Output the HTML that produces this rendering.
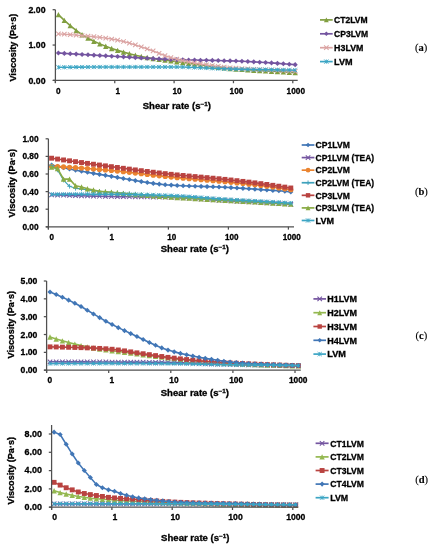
<!DOCTYPE html>
<html><head><meta charset="utf-8"><title>Viscosity vs shear rate</title>
<style>
html,body{margin:0;padding:0;background:#fff;}
svg{display:block;}
text{white-space:pre;}
</style></head><body>
<svg width="433" height="550" viewBox="0 0 433 550">
<rect width="433" height="550" fill="#fff"/>
<g>
<path d="M58.40 14.59L64.32 20.38L70.24 25.61L76.16 30.43L82.08 34.73L88.00 38.17L93.92 41.18L99.84 43.88L105.76 46.30L111.68 48.45L117.60 50.37L123.52 52.14L129.44 53.75L135.36 55.19L141.28 56.47L147.20 57.56L153.12 58.50L159.04 59.34L164.96 60.12L170.88 60.89L176.80 61.68L182.72 62.49L188.64 63.32L194.56 64.14L200.48 64.96L206.40 65.75L212.32 66.50L218.24 67.21L224.16 67.86L230.08 68.44L236.00 68.94L241.92 69.40L247.84 69.81L253.76 70.20L259.68 70.56L265.60 70.90L271.52 71.23L277.44 71.56L283.36 71.90L289.28 72.24L295.20 72.59" stroke="#819f40" stroke-width="1.6" fill="none" stroke-linejoin="round"/>
<path d="M58.40 11.89L61.10 17.29L55.70 17.29Z" fill="#819f40"/>
<path d="M64.32 17.68L67.02 23.08L61.62 23.08Z" fill="#819f40"/>
<path d="M70.24 22.91L72.94 28.31L67.54 28.31Z" fill="#819f40"/>
<path d="M76.16 27.73L78.86 33.13L73.46 33.13Z" fill="#819f40"/>
<path d="M82.08 32.03L84.78 37.43L79.38 37.43Z" fill="#819f40"/>
<path d="M88.00 35.47L90.70 40.87L85.30 40.87Z" fill="#819f40"/>
<path d="M93.92 38.48L96.62 43.88L91.22 43.88Z" fill="#819f40"/>
<path d="M99.84 41.18L102.54 46.58L97.14 46.58Z" fill="#819f40"/>
<path d="M105.76 43.60L108.46 49.00L103.06 49.00Z" fill="#819f40"/>
<path d="M111.68 45.75L114.38 51.15L108.98 51.15Z" fill="#819f40"/>
<path d="M117.60 47.67L120.30 53.07L114.90 53.07Z" fill="#819f40"/>
<path d="M123.52 49.44L126.22 54.84L120.82 54.84Z" fill="#819f40"/>
<path d="M129.44 51.05L132.14 56.45L126.74 56.45Z" fill="#819f40"/>
<path d="M135.36 52.49L138.06 57.89L132.66 57.89Z" fill="#819f40"/>
<path d="M141.28 53.77L143.98 59.17L138.58 59.17Z" fill="#819f40"/>
<path d="M147.20 54.86L149.90 60.26L144.50 60.26Z" fill="#819f40"/>
<path d="M153.12 55.80L155.82 61.20L150.42 61.20Z" fill="#819f40"/>
<path d="M159.04 56.64L161.74 62.04L156.34 62.04Z" fill="#819f40"/>
<path d="M164.96 57.42L167.66 62.82L162.26 62.82Z" fill="#819f40"/>
<path d="M170.88 58.19L173.58 63.59L168.18 63.59Z" fill="#819f40"/>
<path d="M176.80 58.98L179.50 64.38L174.10 64.38Z" fill="#819f40"/>
<path d="M182.72 59.79L185.42 65.19L180.02 65.19Z" fill="#819f40"/>
<path d="M188.64 60.62L191.34 66.02L185.94 66.02Z" fill="#819f40"/>
<path d="M194.56 61.44L197.26 66.84L191.86 66.84Z" fill="#819f40"/>
<path d="M200.48 62.26L203.18 67.66L197.78 67.66Z" fill="#819f40"/>
<path d="M206.40 63.05L209.10 68.45L203.70 68.45Z" fill="#819f40"/>
<path d="M212.32 63.80L215.02 69.20L209.62 69.20Z" fill="#819f40"/>
<path d="M218.24 64.51L220.94 69.91L215.54 69.91Z" fill="#819f40"/>
<path d="M224.16 65.16L226.86 70.56L221.46 70.56Z" fill="#819f40"/>
<path d="M230.08 65.74L232.78 71.14L227.38 71.14Z" fill="#819f40"/>
<path d="M236.00 66.24L238.70 71.64L233.30 71.64Z" fill="#819f40"/>
<path d="M241.92 66.70L244.62 72.10L239.22 72.10Z" fill="#819f40"/>
<path d="M247.84 67.11L250.54 72.51L245.14 72.51Z" fill="#819f40"/>
<path d="M253.76 67.50L256.46 72.90L251.06 72.90Z" fill="#819f40"/>
<path d="M259.68 67.86L262.38 73.26L256.98 73.26Z" fill="#819f40"/>
<path d="M265.60 68.20L268.30 73.60L262.90 73.60Z" fill="#819f40"/>
<path d="M271.52 68.53L274.22 73.93L268.82 73.93Z" fill="#819f40"/>
<path d="M277.44 68.86L280.14 74.26L274.74 74.26Z" fill="#819f40"/>
<path d="M283.36 69.20L286.06 74.60L280.66 74.60Z" fill="#819f40"/>
<path d="M289.28 69.54L291.98 74.94L286.58 74.94Z" fill="#819f40"/>
<path d="M295.20 69.89L297.90 75.29L292.50 75.29Z" fill="#819f40"/>
<path d="M58.40 53.01L64.32 53.38L70.24 53.74L76.16 54.10L82.08 54.46L88.00 54.81L93.92 55.16L99.84 55.51L105.76 55.85L111.68 56.19L117.60 56.52L123.52 56.87L129.44 57.23L135.36 57.59L141.28 57.94L147.20 58.29L153.12 58.61L159.04 58.92L164.96 59.19L170.88 59.43L176.80 59.63L182.72 59.80L188.64 59.94L194.56 60.07L200.48 60.19L206.40 60.30L212.32 60.42L218.24 60.54L224.16 60.69L230.08 60.85L236.00 61.05L241.92 61.28L247.84 61.55L253.76 61.85L259.68 62.18L265.60 62.52L271.52 62.92L277.44 63.37L283.36 63.82L289.28 64.26L295.20 64.64" stroke="#7455a0" stroke-width="1.6" fill="none" stroke-linejoin="round"/>
<path d="M58.40 50.46L60.95 53.01L58.40 55.56L55.85 53.01Z" fill="#7455a0"/>
<path d="M64.32 50.83L66.87 53.38L64.32 55.93L61.77 53.38Z" fill="#7455a0"/>
<path d="M70.24 51.19L72.79 53.74L70.24 56.29L67.69 53.74Z" fill="#7455a0"/>
<path d="M76.16 51.55L78.71 54.10L76.16 56.65L73.61 54.10Z" fill="#7455a0"/>
<path d="M82.08 51.91L84.63 54.46L82.08 57.01L79.53 54.46Z" fill="#7455a0"/>
<path d="M88.00 52.26L90.55 54.81L88.00 57.36L85.45 54.81Z" fill="#7455a0"/>
<path d="M93.92 52.61L96.47 55.16L93.92 57.71L91.37 55.16Z" fill="#7455a0"/>
<path d="M99.84 52.96L102.39 55.51L99.84 58.06L97.29 55.51Z" fill="#7455a0"/>
<path d="M105.76 53.30L108.31 55.85L105.76 58.40L103.21 55.85Z" fill="#7455a0"/>
<path d="M111.68 53.64L114.23 56.19L111.68 58.74L109.13 56.19Z" fill="#7455a0"/>
<path d="M117.60 53.97L120.15 56.52L117.60 59.07L115.05 56.52Z" fill="#7455a0"/>
<path d="M123.52 54.32L126.07 56.87L123.52 59.42L120.97 56.87Z" fill="#7455a0"/>
<path d="M129.44 54.68L131.99 57.23L129.44 59.78L126.89 57.23Z" fill="#7455a0"/>
<path d="M135.36 55.04L137.91 57.59L135.36 60.14L132.81 57.59Z" fill="#7455a0"/>
<path d="M141.28 55.39L143.83 57.94L141.28 60.49L138.73 57.94Z" fill="#7455a0"/>
<path d="M147.20 55.74L149.75 58.29L147.20 60.84L144.65 58.29Z" fill="#7455a0"/>
<path d="M153.12 56.06L155.67 58.61L153.12 61.16L150.57 58.61Z" fill="#7455a0"/>
<path d="M159.04 56.37L161.59 58.92L159.04 61.47L156.49 58.92Z" fill="#7455a0"/>
<path d="M164.96 56.64L167.51 59.19L164.96 61.74L162.41 59.19Z" fill="#7455a0"/>
<path d="M170.88 56.88L173.43 59.43L170.88 61.98L168.33 59.43Z" fill="#7455a0"/>
<path d="M176.80 57.08L179.35 59.63L176.80 62.18L174.25 59.63Z" fill="#7455a0"/>
<path d="M182.72 57.25L185.27 59.80L182.72 62.35L180.17 59.80Z" fill="#7455a0"/>
<path d="M188.64 57.39L191.19 59.94L188.64 62.49L186.09 59.94Z" fill="#7455a0"/>
<path d="M194.56 57.52L197.11 60.07L194.56 62.62L192.01 60.07Z" fill="#7455a0"/>
<path d="M200.48 57.64L203.03 60.19L200.48 62.74L197.93 60.19Z" fill="#7455a0"/>
<path d="M206.40 57.75L208.95 60.30L206.40 62.85L203.85 60.30Z" fill="#7455a0"/>
<path d="M212.32 57.87L214.87 60.42L212.32 62.97L209.77 60.42Z" fill="#7455a0"/>
<path d="M218.24 57.99L220.79 60.54L218.24 63.09L215.69 60.54Z" fill="#7455a0"/>
<path d="M224.16 58.14L226.71 60.69L224.16 63.24L221.61 60.69Z" fill="#7455a0"/>
<path d="M230.08 58.30L232.63 60.85L230.08 63.40L227.53 60.85Z" fill="#7455a0"/>
<path d="M236.00 58.50L238.55 61.05L236.00 63.60L233.45 61.05Z" fill="#7455a0"/>
<path d="M241.92 58.73L244.47 61.28L241.92 63.83L239.37 61.28Z" fill="#7455a0"/>
<path d="M247.84 59.00L250.39 61.55L247.84 64.10L245.29 61.55Z" fill="#7455a0"/>
<path d="M253.76 59.30L256.31 61.85L253.76 64.40L251.21 61.85Z" fill="#7455a0"/>
<path d="M259.68 59.63L262.23 62.18L259.68 64.73L257.13 62.18Z" fill="#7455a0"/>
<path d="M265.60 59.97L268.15 62.52L265.60 65.07L263.05 62.52Z" fill="#7455a0"/>
<path d="M271.52 60.37L274.07 62.92L271.52 65.47L268.97 62.92Z" fill="#7455a0"/>
<path d="M277.44 60.82L279.99 63.37L277.44 65.92L274.89 63.37Z" fill="#7455a0"/>
<path d="M283.36 61.27L285.91 63.82L283.36 66.37L280.81 63.82Z" fill="#7455a0"/>
<path d="M289.28 61.71L291.83 64.26L289.28 66.81L286.73 64.26Z" fill="#7455a0"/>
<path d="M295.20 62.09L297.75 64.64L295.20 67.19L292.65 64.64Z" fill="#7455a0"/>
<path d="M58.40 33.88L64.32 34.22L70.24 34.63L76.16 35.09L82.08 35.59L88.00 36.13L93.92 36.73L99.84 37.40L105.76 38.17L111.68 39.06L117.60 40.11L123.52 41.50L129.44 43.16L135.36 44.99L141.28 46.88L147.20 48.79L153.12 50.97L159.04 53.30L164.96 55.56L170.88 57.57L176.80 59.17L182.72 60.56L188.64 61.83L194.56 62.97L200.48 63.98L206.40 64.88L212.32 65.72L218.24 66.48L224.16 67.17L230.08 67.75L236.00 68.22L241.92 68.62L247.84 68.98L253.76 69.31L259.68 69.60L265.60 69.88L271.52 70.15L277.44 70.42L283.36 70.71L289.28 71.01L295.20 71.35" stroke="#dba4a3" stroke-width="1.4" fill="none" stroke-linejoin="round"/>
<path d="M56.15 31.63L60.65 36.13M56.15 36.13L60.65 31.63" stroke="#dba4a3" stroke-width="1.05" fill="none"/>
<path d="M62.07 31.97L66.57 36.47M62.07 36.47L66.57 31.97" stroke="#dba4a3" stroke-width="1.05" fill="none"/>
<path d="M67.99 32.38L72.49 36.88M67.99 36.88L72.49 32.38" stroke="#dba4a3" stroke-width="1.05" fill="none"/>
<path d="M73.91 32.84L78.41 37.34M73.91 37.34L78.41 32.84" stroke="#dba4a3" stroke-width="1.05" fill="none"/>
<path d="M79.83 33.34L84.33 37.84M79.83 37.84L84.33 33.34" stroke="#dba4a3" stroke-width="1.05" fill="none"/>
<path d="M85.75 33.88L90.25 38.38M85.75 38.38L90.25 33.88" stroke="#dba4a3" stroke-width="1.05" fill="none"/>
<path d="M91.67 34.48L96.17 38.98M91.67 38.98L96.17 34.48" stroke="#dba4a3" stroke-width="1.05" fill="none"/>
<path d="M97.59 35.15L102.09 39.65M97.59 39.65L102.09 35.15" stroke="#dba4a3" stroke-width="1.05" fill="none"/>
<path d="M103.51 35.92L108.01 40.42M103.51 40.42L108.01 35.92" stroke="#dba4a3" stroke-width="1.05" fill="none"/>
<path d="M109.43 36.81L113.93 41.31M109.43 41.31L113.93 36.81" stroke="#dba4a3" stroke-width="1.05" fill="none"/>
<path d="M115.35 37.86L119.85 42.36M115.35 42.36L119.85 37.86" stroke="#dba4a3" stroke-width="1.05" fill="none"/>
<path d="M121.27 39.25L125.77 43.75M121.27 43.75L125.77 39.25" stroke="#dba4a3" stroke-width="1.05" fill="none"/>
<path d="M127.19 40.91L131.69 45.41M127.19 45.41L131.69 40.91" stroke="#dba4a3" stroke-width="1.05" fill="none"/>
<path d="M133.11 42.74L137.61 47.24M133.11 47.24L137.61 42.74" stroke="#dba4a3" stroke-width="1.05" fill="none"/>
<path d="M139.03 44.63L143.53 49.13M139.03 49.13L143.53 44.63" stroke="#dba4a3" stroke-width="1.05" fill="none"/>
<path d="M144.95 46.54L149.45 51.04M144.95 51.04L149.45 46.54" stroke="#dba4a3" stroke-width="1.05" fill="none"/>
<path d="M150.87 48.72L155.37 53.22M150.87 53.22L155.37 48.72" stroke="#dba4a3" stroke-width="1.05" fill="none"/>
<path d="M156.79 51.05L161.29 55.55M156.79 55.55L161.29 51.05" stroke="#dba4a3" stroke-width="1.05" fill="none"/>
<path d="M162.71 53.31L167.21 57.81M162.71 57.81L167.21 53.31" stroke="#dba4a3" stroke-width="1.05" fill="none"/>
<path d="M168.63 55.32L173.13 59.82M168.63 59.82L173.13 55.32" stroke="#dba4a3" stroke-width="1.05" fill="none"/>
<path d="M174.55 56.92L179.05 61.42M174.55 61.42L179.05 56.92" stroke="#dba4a3" stroke-width="1.05" fill="none"/>
<path d="M180.47 58.31L184.97 62.81M180.47 62.81L184.97 58.31" stroke="#dba4a3" stroke-width="1.05" fill="none"/>
<path d="M186.39 59.58L190.89 64.08M186.39 64.08L190.89 59.58" stroke="#dba4a3" stroke-width="1.05" fill="none"/>
<path d="M192.31 60.72L196.81 65.22M192.31 65.22L196.81 60.72" stroke="#dba4a3" stroke-width="1.05" fill="none"/>
<path d="M198.23 61.73L202.73 66.23M198.23 66.23L202.73 61.73" stroke="#dba4a3" stroke-width="1.05" fill="none"/>
<path d="M204.15 62.63L208.65 67.13M204.15 67.13L208.65 62.63" stroke="#dba4a3" stroke-width="1.05" fill="none"/>
<path d="M210.07 63.47L214.57 67.97M210.07 67.97L214.57 63.47" stroke="#dba4a3" stroke-width="1.05" fill="none"/>
<path d="M215.99 64.23L220.49 68.73M215.99 68.73L220.49 64.23" stroke="#dba4a3" stroke-width="1.05" fill="none"/>
<path d="M221.91 64.92L226.41 69.42M221.91 69.42L226.41 64.92" stroke="#dba4a3" stroke-width="1.05" fill="none"/>
<path d="M227.83 65.50L232.33 70.00M227.83 70.00L232.33 65.50" stroke="#dba4a3" stroke-width="1.05" fill="none"/>
<path d="M233.75 65.97L238.25 70.47M233.75 70.47L238.25 65.97" stroke="#dba4a3" stroke-width="1.05" fill="none"/>
<path d="M239.67 66.37L244.17 70.87M239.67 70.87L244.17 66.37" stroke="#dba4a3" stroke-width="1.05" fill="none"/>
<path d="M245.59 66.73L250.09 71.23M245.59 71.23L250.09 66.73" stroke="#dba4a3" stroke-width="1.05" fill="none"/>
<path d="M251.51 67.06L256.01 71.56M251.51 71.56L256.01 67.06" stroke="#dba4a3" stroke-width="1.05" fill="none"/>
<path d="M257.43 67.35L261.93 71.85M257.43 71.85L261.93 67.35" stroke="#dba4a3" stroke-width="1.05" fill="none"/>
<path d="M263.35 67.63L267.85 72.13M263.35 72.13L267.85 67.63" stroke="#dba4a3" stroke-width="1.05" fill="none"/>
<path d="M269.27 67.90L273.77 72.40M269.27 72.40L273.77 67.90" stroke="#dba4a3" stroke-width="1.05" fill="none"/>
<path d="M275.19 68.17L279.69 72.67M275.19 72.67L279.69 68.17" stroke="#dba4a3" stroke-width="1.05" fill="none"/>
<path d="M281.11 68.46L285.61 72.96M281.11 72.96L285.61 68.46" stroke="#dba4a3" stroke-width="1.05" fill="none"/>
<path d="M287.03 68.76L291.53 73.26M287.03 73.26L291.53 68.76" stroke="#dba4a3" stroke-width="1.05" fill="none"/>
<path d="M292.95 69.10L297.45 73.60M292.95 73.60L297.45 69.10" stroke="#dba4a3" stroke-width="1.05" fill="none"/>
<path d="M58.40 67.29L64.32 67.24L70.24 67.19L76.16 67.14L82.08 67.10L88.00 67.06L93.92 67.02L99.84 67.00L105.76 66.98L111.68 66.97L117.60 66.97L123.52 66.97L129.44 66.97L135.36 66.97L141.28 66.97L147.20 66.97L153.12 66.97L159.04 66.97L164.96 66.97L170.88 66.97L176.80 66.98L182.72 67.06L188.64 67.22L194.56 67.44L200.48 67.70L206.40 67.98L212.32 68.26L218.24 68.54L224.16 68.79L230.08 69.00L236.00 69.15L241.92 69.27L247.84 69.38L253.76 69.48L259.68 69.57L265.60 69.65L271.52 69.74L277.44 69.84L283.36 69.95L289.28 70.07L295.20 70.21" stroke="#3ba5c4" stroke-width="1.6" fill="none" stroke-linejoin="round"/>
<path d="M56.30 65.19L60.50 69.39M56.30 69.39L60.50 65.19M58.40 65.19L58.40 69.39" stroke="#3ba5c4" stroke-width="0.9" fill="none"/>
<path d="M62.22 65.14L66.42 69.34M62.22 69.34L66.42 65.14M64.32 65.14L64.32 69.34" stroke="#3ba5c4" stroke-width="0.9" fill="none"/>
<path d="M68.14 65.09L72.34 69.29M68.14 69.29L72.34 65.09M70.24 65.09L70.24 69.29" stroke="#3ba5c4" stroke-width="0.9" fill="none"/>
<path d="M74.06 65.04L78.26 69.24M74.06 69.24L78.26 65.04M76.16 65.04L76.16 69.24" stroke="#3ba5c4" stroke-width="0.9" fill="none"/>
<path d="M79.98 65.00L84.18 69.20M79.98 69.20L84.18 65.00M82.08 65.00L82.08 69.20" stroke="#3ba5c4" stroke-width="0.9" fill="none"/>
<path d="M85.90 64.96L90.10 69.16M85.90 69.16L90.10 64.96M88.00 64.96L88.00 69.16" stroke="#3ba5c4" stroke-width="0.9" fill="none"/>
<path d="M91.82 64.92L96.02 69.12M91.82 69.12L96.02 64.92M93.92 64.92L93.92 69.12" stroke="#3ba5c4" stroke-width="0.9" fill="none"/>
<path d="M97.74 64.90L101.94 69.10M97.74 69.10L101.94 64.90M99.84 64.90L99.84 69.10" stroke="#3ba5c4" stroke-width="0.9" fill="none"/>
<path d="M103.66 64.88L107.86 69.08M103.66 69.08L107.86 64.88M105.76 64.88L105.76 69.08" stroke="#3ba5c4" stroke-width="0.9" fill="none"/>
<path d="M109.58 64.87L113.78 69.07M109.58 69.07L113.78 64.87M111.68 64.87L111.68 69.07" stroke="#3ba5c4" stroke-width="0.9" fill="none"/>
<path d="M115.50 64.87L119.70 69.07M115.50 69.07L119.70 64.87M117.60 64.87L117.60 69.07" stroke="#3ba5c4" stroke-width="0.9" fill="none"/>
<path d="M121.42 64.87L125.62 69.07M121.42 69.07L125.62 64.87M123.52 64.87L123.52 69.07" stroke="#3ba5c4" stroke-width="0.9" fill="none"/>
<path d="M127.34 64.87L131.54 69.07M127.34 69.07L131.54 64.87M129.44 64.87L129.44 69.07" stroke="#3ba5c4" stroke-width="0.9" fill="none"/>
<path d="M133.26 64.87L137.46 69.07M133.26 69.07L137.46 64.87M135.36 64.87L135.36 69.07" stroke="#3ba5c4" stroke-width="0.9" fill="none"/>
<path d="M139.18 64.87L143.38 69.07M139.18 69.07L143.38 64.87M141.28 64.87L141.28 69.07" stroke="#3ba5c4" stroke-width="0.9" fill="none"/>
<path d="M145.10 64.87L149.30 69.07M145.10 69.07L149.30 64.87M147.20 64.87L147.20 69.07" stroke="#3ba5c4" stroke-width="0.9" fill="none"/>
<path d="M151.02 64.87L155.22 69.07M151.02 69.07L155.22 64.87M153.12 64.87L153.12 69.07" stroke="#3ba5c4" stroke-width="0.9" fill="none"/>
<path d="M156.94 64.87L161.14 69.07M156.94 69.07L161.14 64.87M159.04 64.87L159.04 69.07" stroke="#3ba5c4" stroke-width="0.9" fill="none"/>
<path d="M162.86 64.87L167.06 69.07M162.86 69.07L167.06 64.87M164.96 64.87L164.96 69.07" stroke="#3ba5c4" stroke-width="0.9" fill="none"/>
<path d="M168.78 64.87L172.98 69.07M168.78 69.07L172.98 64.87M170.88 64.87L170.88 69.07" stroke="#3ba5c4" stroke-width="0.9" fill="none"/>
<path d="M174.70 64.88L178.90 69.08M174.70 69.08L178.90 64.88M176.80 64.88L176.80 69.08" stroke="#3ba5c4" stroke-width="0.9" fill="none"/>
<path d="M180.62 64.96L184.82 69.16M180.62 69.16L184.82 64.96M182.72 64.96L182.72 69.16" stroke="#3ba5c4" stroke-width="0.9" fill="none"/>
<path d="M186.54 65.12L190.74 69.32M186.54 69.32L190.74 65.12M188.64 65.12L188.64 69.32" stroke="#3ba5c4" stroke-width="0.9" fill="none"/>
<path d="M192.46 65.34L196.66 69.54M192.46 69.54L196.66 65.34M194.56 65.34L194.56 69.54" stroke="#3ba5c4" stroke-width="0.9" fill="none"/>
<path d="M198.38 65.60L202.58 69.80M198.38 69.80L202.58 65.60M200.48 65.60L200.48 69.80" stroke="#3ba5c4" stroke-width="0.9" fill="none"/>
<path d="M204.30 65.88L208.50 70.08M204.30 70.08L208.50 65.88M206.40 65.88L206.40 70.08" stroke="#3ba5c4" stroke-width="0.9" fill="none"/>
<path d="M210.22 66.16L214.42 70.36M210.22 70.36L214.42 66.16M212.32 66.16L212.32 70.36" stroke="#3ba5c4" stroke-width="0.9" fill="none"/>
<path d="M216.14 66.44L220.34 70.64M216.14 70.64L220.34 66.44M218.24 66.44L218.24 70.64" stroke="#3ba5c4" stroke-width="0.9" fill="none"/>
<path d="M222.06 66.69L226.26 70.89M222.06 70.89L226.26 66.69M224.16 66.69L224.16 70.89" stroke="#3ba5c4" stroke-width="0.9" fill="none"/>
<path d="M227.98 66.90L232.18 71.10M227.98 71.10L232.18 66.90M230.08 66.90L230.08 71.10" stroke="#3ba5c4" stroke-width="0.9" fill="none"/>
<path d="M233.90 67.05L238.10 71.25M233.90 71.25L238.10 67.05M236.00 67.05L236.00 71.25" stroke="#3ba5c4" stroke-width="0.9" fill="none"/>
<path d="M239.82 67.17L244.02 71.37M239.82 71.37L244.02 67.17M241.92 67.17L241.92 71.37" stroke="#3ba5c4" stroke-width="0.9" fill="none"/>
<path d="M245.74 67.28L249.94 71.48M245.74 71.48L249.94 67.28M247.84 67.28L247.84 71.48" stroke="#3ba5c4" stroke-width="0.9" fill="none"/>
<path d="M251.66 67.38L255.86 71.58M251.66 71.58L255.86 67.38M253.76 67.38L253.76 71.58" stroke="#3ba5c4" stroke-width="0.9" fill="none"/>
<path d="M257.58 67.47L261.78 71.67M257.58 71.67L261.78 67.47M259.68 67.47L259.68 71.67" stroke="#3ba5c4" stroke-width="0.9" fill="none"/>
<path d="M263.50 67.55L267.70 71.75M263.50 71.75L267.70 67.55M265.60 67.55L265.60 71.75" stroke="#3ba5c4" stroke-width="0.9" fill="none"/>
<path d="M269.42 67.64L273.62 71.84M269.42 71.84L273.62 67.64M271.52 67.64L271.52 71.84" stroke="#3ba5c4" stroke-width="0.9" fill="none"/>
<path d="M275.34 67.74L279.54 71.94M275.34 71.94L279.54 67.74M277.44 67.74L277.44 71.94" stroke="#3ba5c4" stroke-width="0.9" fill="none"/>
<path d="M281.26 67.85L285.46 72.05M281.26 72.05L285.46 67.85M283.36 67.85L283.36 72.05" stroke="#3ba5c4" stroke-width="0.9" fill="none"/>
<path d="M287.18 67.97L291.38 72.17M287.18 72.17L291.38 67.97M289.28 67.97L289.28 72.17" stroke="#3ba5c4" stroke-width="0.9" fill="none"/>
<path d="M293.10 68.11L297.30 72.31M293.10 72.31L297.30 68.11M295.20 68.11L295.20 72.31" stroke="#3ba5c4" stroke-width="0.9" fill="none"/>
<path d="M55.40 9.70L55.40 82.90M52.90 80.40L297.70 80.40" stroke="#505050" stroke-width="1.25" fill="none"/>
<path d="M52.60 80.40L55.40 80.40" stroke="#505050" stroke-width="1.25"/>
<text x="45.50" y="83.60" font-family='"Liberation Sans", sans-serif' font-size="9.0" font-weight="bold" text-anchor="end" fill="#000" textLength="17.00" lengthAdjust="spacingAndGlyphs" stroke="#000" stroke-width="0.3">0.00</text>
<path d="M52.60 45.05L55.40 45.05" stroke="#505050" stroke-width="1.25"/>
<text x="45.50" y="48.25" font-family='"Liberation Sans", sans-serif' font-size="9.0" font-weight="bold" text-anchor="end" fill="#000" textLength="17.00" lengthAdjust="spacingAndGlyphs" stroke="#000" stroke-width="0.3">1.00</text>
<path d="M52.60 9.70L55.40 9.70" stroke="#505050" stroke-width="1.25"/>
<text x="45.50" y="12.90" font-family='"Liberation Sans", sans-serif' font-size="9.0" font-weight="bold" text-anchor="end" fill="#000" textLength="17.00" lengthAdjust="spacingAndGlyphs" stroke="#000" stroke-width="0.3">2.00</text>
<path d="M55.40 80.40L55.40 83.20" stroke="#505050" stroke-width="1.25"/>
<text x="58.40" y="93.60" font-family='"Liberation Sans", sans-serif' font-size="9.0" font-weight="bold" text-anchor="middle" fill="#000" textLength="4.60" lengthAdjust="spacingAndGlyphs" stroke="#000" stroke-width="0.3">0</text>
<path d="M114.75 80.40L114.75 83.20" stroke="#505050" stroke-width="1.25"/>
<text x="117.75" y="93.60" font-family='"Liberation Sans", sans-serif' font-size="9.0" font-weight="bold" text-anchor="middle" fill="#000" textLength="4.60" lengthAdjust="spacingAndGlyphs" stroke="#000" stroke-width="0.3">1</text>
<path d="M174.10 80.40L174.10 83.20" stroke="#505050" stroke-width="1.25"/>
<text x="177.10" y="93.60" font-family='"Liberation Sans", sans-serif' font-size="9.0" font-weight="bold" text-anchor="middle" fill="#000" textLength="9.20" lengthAdjust="spacingAndGlyphs" stroke="#000" stroke-width="0.3">10</text>
<path d="M233.45 80.40L233.45 83.20" stroke="#505050" stroke-width="1.25"/>
<text x="236.45" y="93.60" font-family='"Liberation Sans", sans-serif' font-size="9.0" font-weight="bold" text-anchor="middle" fill="#000" textLength="13.80" lengthAdjust="spacingAndGlyphs" stroke="#000" stroke-width="0.3">100</text>
<path d="M292.80 80.40L292.80 83.20" stroke="#505050" stroke-width="1.25"/>
<text x="295.80" y="93.60" font-family='"Liberation Sans", sans-serif' font-size="9.0" font-weight="bold" text-anchor="middle" fill="#000" textLength="18.40" lengthAdjust="spacingAndGlyphs" stroke="#000" stroke-width="0.3">1000</text>
<text x="16.40" y="47.60" font-family='"Liberation Sans", sans-serif' font-size="8.8" font-weight="bold" text-anchor="middle" fill="#000" textLength="68.00" lengthAdjust="spacingAndGlyphs" transform="rotate(-90 16.40 47.60)" stroke="#000" stroke-width="0.3">Viscosity (Pa·s)</text>
<text x="176.80" y="109.20" font-family='"Liberation Sans", sans-serif' font-size="8.8" font-weight="bold" text-anchor="middle" fill="#000" textLength="68.10" lengthAdjust="spacingAndGlyphs" stroke="#000" stroke-width="0.3">Shear rate (s<tspan font-size="5.8" dy="-3.0">−1</tspan><tspan dy="3.0">)</tspan></text>
<path d="M320.00 19.90L332.70 19.90" stroke="#819f40" stroke-width="1.7"/>
<path d="M326.35 17.47L328.78 22.33L323.92 22.33Z" fill="#819f40"/>
<text x="334.10" y="23.10" font-family='"Liberation Sans", sans-serif' font-size="9" font-weight="bold" text-anchor="start" fill="#000" textLength="33.50" lengthAdjust="spacingAndGlyphs" stroke="#000" stroke-width="0.3">CT2LVM</text>
<path d="M320.00 33.80L332.70 33.80" stroke="#7455a0" stroke-width="1.7"/>
<path d="M326.35 31.50L328.65 33.80L326.35 36.09L324.06 33.80Z" fill="#7455a0"/>
<text x="334.10" y="37.00" font-family='"Liberation Sans", sans-serif' font-size="9" font-weight="bold" text-anchor="start" fill="#000" textLength="34.00" lengthAdjust="spacingAndGlyphs" stroke="#000" stroke-width="0.3">CP3LVM</text>
<path d="M320.00 47.70L332.70 47.70" stroke="#dba4a3" stroke-width="1.7"/>
<path d="M324.10 45.45L328.60 49.95M324.10 49.95L328.60 45.45" stroke="#dba4a3" stroke-width="1.05" fill="none"/>
<text x="334.10" y="50.90" font-family='"Liberation Sans", sans-serif' font-size="9" font-weight="bold" text-anchor="start" fill="#000" textLength="29.30" lengthAdjust="spacingAndGlyphs" stroke="#000" stroke-width="0.3">H3LVM</text>
<path d="M320.00 61.60L332.70 61.60" stroke="#3ba5c4" stroke-width="1.7"/>
<path d="M324.25 59.50L328.45 63.70M324.25 63.70L328.45 59.50M326.35 59.50L326.35 63.70" stroke="#3ba5c4" stroke-width="0.9" fill="none"/>
<text x="334.10" y="64.80" font-family='"Liberation Sans", sans-serif' font-size="9" font-weight="bold" text-anchor="start" fill="#000" textLength="18.50" lengthAdjust="spacingAndGlyphs" stroke="#000" stroke-width="0.3">LVM</text>
<text x="421.00" y="51.00" font-family='"Liberation Serif", serif' font-size="10.5" font-weight="normal" text-anchor="middle" fill="#000" stroke="#000" stroke-width="0.12">(<tspan font-weight="bold">a</tspan>)</text>
</g>
<g>
<path d="M51.60 165.06L57.58 166.40L63.56 167.70L69.54 168.94L75.52 170.12L81.50 171.24L87.48 172.32L93.46 173.36L99.44 174.37L105.42 175.36L111.40 176.35L117.38 177.38L123.36 178.45L129.34 179.52L135.32 180.58L141.30 181.59L147.28 182.53L153.26 183.38L159.24 184.10L165.22 184.68L171.20 185.09L177.18 185.43L183.16 185.71L189.14 185.96L195.12 186.18L201.10 186.38L207.08 186.58L213.06 186.79L219.04 187.03L225.02 187.29L231.00 187.61L236.98 187.96L242.96 188.34L248.94 188.75L254.92 189.17L260.90 189.59L266.88 190.01L272.86 190.39L278.84 190.78L284.82 191.25L290.80 191.91" stroke="#4176b6" stroke-width="1.6" fill="none" stroke-linejoin="round"/>
<path d="M51.60 162.51L54.15 165.06L51.60 167.61L49.05 165.06Z" fill="#4176b6"/>
<path d="M57.58 163.85L60.13 166.40L57.58 168.95L55.03 166.40Z" fill="#4176b6"/>
<path d="M63.56 165.15L66.11 167.70L63.56 170.25L61.01 167.70Z" fill="#4176b6"/>
<path d="M69.54 166.39L72.09 168.94L69.54 171.49L66.99 168.94Z" fill="#4176b6"/>
<path d="M75.52 167.57L78.07 170.12L75.52 172.67L72.97 170.12Z" fill="#4176b6"/>
<path d="M81.50 168.69L84.05 171.24L81.50 173.79L78.95 171.24Z" fill="#4176b6"/>
<path d="M87.48 169.77L90.03 172.32L87.48 174.87L84.93 172.32Z" fill="#4176b6"/>
<path d="M93.46 170.81L96.01 173.36L93.46 175.91L90.91 173.36Z" fill="#4176b6"/>
<path d="M99.44 171.82L101.99 174.37L99.44 176.92L96.89 174.37Z" fill="#4176b6"/>
<path d="M105.42 172.81L107.97 175.36L105.42 177.91L102.87 175.36Z" fill="#4176b6"/>
<path d="M111.40 173.80L113.95 176.35L111.40 178.90L108.85 176.35Z" fill="#4176b6"/>
<path d="M117.38 174.83L119.93 177.38L117.38 179.93L114.83 177.38Z" fill="#4176b6"/>
<path d="M123.36 175.90L125.91 178.45L123.36 181.00L120.81 178.45Z" fill="#4176b6"/>
<path d="M129.34 176.97L131.89 179.52L129.34 182.07L126.79 179.52Z" fill="#4176b6"/>
<path d="M135.32 178.03L137.87 180.58L135.32 183.13L132.77 180.58Z" fill="#4176b6"/>
<path d="M141.30 179.04L143.85 181.59L141.30 184.14L138.75 181.59Z" fill="#4176b6"/>
<path d="M147.28 179.98L149.83 182.53L147.28 185.08L144.73 182.53Z" fill="#4176b6"/>
<path d="M153.26 180.83L155.81 183.38L153.26 185.93L150.71 183.38Z" fill="#4176b6"/>
<path d="M159.24 181.55L161.79 184.10L159.24 186.65L156.69 184.10Z" fill="#4176b6"/>
<path d="M165.22 182.13L167.77 184.68L165.22 187.23L162.67 184.68Z" fill="#4176b6"/>
<path d="M171.20 182.54L173.75 185.09L171.20 187.64L168.65 185.09Z" fill="#4176b6"/>
<path d="M177.18 182.88L179.73 185.43L177.18 187.98L174.63 185.43Z" fill="#4176b6"/>
<path d="M183.16 183.16L185.71 185.71L183.16 188.26L180.61 185.71Z" fill="#4176b6"/>
<path d="M189.14 183.41L191.69 185.96L189.14 188.51L186.59 185.96Z" fill="#4176b6"/>
<path d="M195.12 183.63L197.67 186.18L195.12 188.73L192.57 186.18Z" fill="#4176b6"/>
<path d="M201.10 183.83L203.65 186.38L201.10 188.93L198.55 186.38Z" fill="#4176b6"/>
<path d="M207.08 184.03L209.63 186.58L207.08 189.13L204.53 186.58Z" fill="#4176b6"/>
<path d="M213.06 184.24L215.61 186.79L213.06 189.34L210.51 186.79Z" fill="#4176b6"/>
<path d="M219.04 184.48L221.59 187.03L219.04 189.58L216.49 187.03Z" fill="#4176b6"/>
<path d="M225.02 184.74L227.57 187.29L225.02 189.84L222.47 187.29Z" fill="#4176b6"/>
<path d="M231.00 185.06L233.55 187.61L231.00 190.16L228.45 187.61Z" fill="#4176b6"/>
<path d="M236.98 185.41L239.53 187.96L236.98 190.51L234.43 187.96Z" fill="#4176b6"/>
<path d="M242.96 185.79L245.51 188.34L242.96 190.89L240.41 188.34Z" fill="#4176b6"/>
<path d="M248.94 186.20L251.49 188.75L248.94 191.30L246.39 188.75Z" fill="#4176b6"/>
<path d="M254.92 186.62L257.47 189.17L254.92 191.72L252.37 189.17Z" fill="#4176b6"/>
<path d="M260.90 187.04L263.45 189.59L260.90 192.14L258.35 189.59Z" fill="#4176b6"/>
<path d="M266.88 187.46L269.43 190.01L266.88 192.56L264.33 190.01Z" fill="#4176b6"/>
<path d="M272.86 187.84L275.41 190.39L272.86 192.94L270.31 190.39Z" fill="#4176b6"/>
<path d="M278.84 188.23L281.39 190.78L278.84 193.33L276.29 190.78Z" fill="#4176b6"/>
<path d="M284.82 188.70L287.37 191.25L284.82 193.80L282.27 191.25Z" fill="#4176b6"/>
<path d="M290.80 189.36L293.35 191.91L290.80 194.46L288.25 191.91Z" fill="#4176b6"/>
<path d="M51.60 194.80L57.58 195.01L63.56 195.21L69.54 195.41L75.52 195.60L81.50 195.78L87.48 195.95L93.46 196.10L99.44 196.25L105.42 196.38L111.40 196.50L117.38 196.59L123.36 196.68L129.34 196.75L135.32 196.82L141.30 196.88L147.28 196.96L153.26 197.04L159.24 197.13L165.22 197.25L171.20 197.39L177.18 197.61L183.16 197.90L189.14 198.23L195.12 198.61L201.10 199.02L207.08 199.44L213.06 199.86L219.04 200.26L225.02 200.64L231.00 200.98L236.98 201.31L242.96 201.62L248.94 201.92L254.92 202.23L260.90 202.53L266.88 202.84L272.86 203.17L278.84 203.51L284.82 203.87L290.80 204.26" stroke="#7455a0" stroke-width="1.6" fill="none" stroke-linejoin="round"/>
<path d="M49.35 192.55L53.85 197.05M49.35 197.05L53.85 192.55" stroke="#7455a0" stroke-width="1.05" fill="none"/>
<path d="M55.33 192.76L59.83 197.26M55.33 197.26L59.83 192.76" stroke="#7455a0" stroke-width="1.05" fill="none"/>
<path d="M61.31 192.96L65.81 197.46M61.31 197.46L65.81 192.96" stroke="#7455a0" stroke-width="1.05" fill="none"/>
<path d="M67.29 193.16L71.79 197.66M67.29 197.66L71.79 193.16" stroke="#7455a0" stroke-width="1.05" fill="none"/>
<path d="M73.27 193.35L77.77 197.85M73.27 197.85L77.77 193.35" stroke="#7455a0" stroke-width="1.05" fill="none"/>
<path d="M79.25 193.53L83.75 198.03M79.25 198.03L83.75 193.53" stroke="#7455a0" stroke-width="1.05" fill="none"/>
<path d="M85.23 193.70L89.73 198.20M85.23 198.20L89.73 193.70" stroke="#7455a0" stroke-width="1.05" fill="none"/>
<path d="M91.21 193.85L95.71 198.35M91.21 198.35L95.71 193.85" stroke="#7455a0" stroke-width="1.05" fill="none"/>
<path d="M97.19 194.00L101.69 198.50M97.19 198.50L101.69 194.00" stroke="#7455a0" stroke-width="1.05" fill="none"/>
<path d="M103.17 194.13L107.67 198.63M103.17 198.63L107.67 194.13" stroke="#7455a0" stroke-width="1.05" fill="none"/>
<path d="M109.15 194.25L113.65 198.75M109.15 198.75L113.65 194.25" stroke="#7455a0" stroke-width="1.05" fill="none"/>
<path d="M115.13 194.34L119.63 198.84M115.13 198.84L119.63 194.34" stroke="#7455a0" stroke-width="1.05" fill="none"/>
<path d="M121.11 194.43L125.61 198.93M121.11 198.93L125.61 194.43" stroke="#7455a0" stroke-width="1.05" fill="none"/>
<path d="M127.09 194.50L131.59 199.00M127.09 199.00L131.59 194.50" stroke="#7455a0" stroke-width="1.05" fill="none"/>
<path d="M133.07 194.57L137.57 199.07M133.07 199.07L137.57 194.57" stroke="#7455a0" stroke-width="1.05" fill="none"/>
<path d="M139.05 194.63L143.55 199.13M139.05 199.13L143.55 194.63" stroke="#7455a0" stroke-width="1.05" fill="none"/>
<path d="M145.03 194.71L149.53 199.21M145.03 199.21L149.53 194.71" stroke="#7455a0" stroke-width="1.05" fill="none"/>
<path d="M151.01 194.79L155.51 199.29M151.01 199.29L155.51 194.79" stroke="#7455a0" stroke-width="1.05" fill="none"/>
<path d="M156.99 194.88L161.49 199.38M156.99 199.38L161.49 194.88" stroke="#7455a0" stroke-width="1.05" fill="none"/>
<path d="M162.97 195.00L167.47 199.50M162.97 199.50L167.47 195.00" stroke="#7455a0" stroke-width="1.05" fill="none"/>
<path d="M168.95 195.14L173.45 199.64M168.95 199.64L173.45 195.14" stroke="#7455a0" stroke-width="1.05" fill="none"/>
<path d="M174.93 195.36L179.43 199.86M174.93 199.86L179.43 195.36" stroke="#7455a0" stroke-width="1.05" fill="none"/>
<path d="M180.91 195.65L185.41 200.15M180.91 200.15L185.41 195.65" stroke="#7455a0" stroke-width="1.05" fill="none"/>
<path d="M186.89 195.98L191.39 200.48M186.89 200.48L191.39 195.98" stroke="#7455a0" stroke-width="1.05" fill="none"/>
<path d="M192.87 196.36L197.37 200.86M192.87 200.86L197.37 196.36" stroke="#7455a0" stroke-width="1.05" fill="none"/>
<path d="M198.85 196.77L203.35 201.27M198.85 201.27L203.35 196.77" stroke="#7455a0" stroke-width="1.05" fill="none"/>
<path d="M204.83 197.19L209.33 201.69M204.83 201.69L209.33 197.19" stroke="#7455a0" stroke-width="1.05" fill="none"/>
<path d="M210.81 197.61L215.31 202.11M210.81 202.11L215.31 197.61" stroke="#7455a0" stroke-width="1.05" fill="none"/>
<path d="M216.79 198.01L221.29 202.51M216.79 202.51L221.29 198.01" stroke="#7455a0" stroke-width="1.05" fill="none"/>
<path d="M222.77 198.39L227.27 202.89M222.77 202.89L227.27 198.39" stroke="#7455a0" stroke-width="1.05" fill="none"/>
<path d="M228.75 198.73L233.25 203.23M228.75 203.23L233.25 198.73" stroke="#7455a0" stroke-width="1.05" fill="none"/>
<path d="M234.73 199.06L239.23 203.56M234.73 203.56L239.23 199.06" stroke="#7455a0" stroke-width="1.05" fill="none"/>
<path d="M240.71 199.37L245.21 203.87M240.71 203.87L245.21 199.37" stroke="#7455a0" stroke-width="1.05" fill="none"/>
<path d="M246.69 199.67L251.19 204.17M246.69 204.17L251.19 199.67" stroke="#7455a0" stroke-width="1.05" fill="none"/>
<path d="M252.67 199.98L257.17 204.48M252.67 204.48L257.17 199.98" stroke="#7455a0" stroke-width="1.05" fill="none"/>
<path d="M258.65 200.28L263.15 204.78M258.65 204.78L263.15 200.28" stroke="#7455a0" stroke-width="1.05" fill="none"/>
<path d="M264.63 200.59L269.13 205.09M264.63 205.09L269.13 200.59" stroke="#7455a0" stroke-width="1.05" fill="none"/>
<path d="M270.61 200.92L275.11 205.42M270.61 205.42L275.11 200.92" stroke="#7455a0" stroke-width="1.05" fill="none"/>
<path d="M276.59 201.26L281.09 205.76M276.59 205.76L281.09 201.26" stroke="#7455a0" stroke-width="1.05" fill="none"/>
<path d="M282.57 201.62L287.07 206.12M282.57 206.12L287.07 201.62" stroke="#7455a0" stroke-width="1.05" fill="none"/>
<path d="M288.55 202.01L293.05 206.51M288.55 206.51L293.05 202.01" stroke="#7455a0" stroke-width="1.05" fill="none"/>
<path d="M51.60 166.24L57.58 166.56L63.56 166.91L69.54 167.28L75.52 167.68L81.50 168.10L87.48 168.54L93.46 169.00L99.44 169.47L105.42 169.97L111.40 170.48L117.38 171.05L123.36 171.68L129.34 172.35L135.32 173.05L141.30 173.77L147.28 174.48L153.26 175.18L159.24 175.86L165.22 176.50L171.20 177.09L177.18 177.64L183.16 178.17L189.14 178.69L195.12 179.19L201.10 179.69L207.08 180.19L213.06 180.70L219.04 181.23L225.02 181.77L231.00 182.35L236.98 182.93L242.96 183.52L248.94 184.13L254.92 184.77L260.90 185.46L266.88 186.20L272.86 187.04L278.84 187.95L284.82 188.86L290.80 189.75" stroke="#ea8430" stroke-width="1.6" fill="none" stroke-linejoin="round"/>
<circle cx="51.60" cy="166.24" r="2.60" fill="#ea8430"/>
<circle cx="57.58" cy="166.56" r="2.60" fill="#ea8430"/>
<circle cx="63.56" cy="166.91" r="2.60" fill="#ea8430"/>
<circle cx="69.54" cy="167.28" r="2.60" fill="#ea8430"/>
<circle cx="75.52" cy="167.68" r="2.60" fill="#ea8430"/>
<circle cx="81.50" cy="168.10" r="2.60" fill="#ea8430"/>
<circle cx="87.48" cy="168.54" r="2.60" fill="#ea8430"/>
<circle cx="93.46" cy="169.00" r="2.60" fill="#ea8430"/>
<circle cx="99.44" cy="169.47" r="2.60" fill="#ea8430"/>
<circle cx="105.42" cy="169.97" r="2.60" fill="#ea8430"/>
<circle cx="111.40" cy="170.48" r="2.60" fill="#ea8430"/>
<circle cx="117.38" cy="171.05" r="2.60" fill="#ea8430"/>
<circle cx="123.36" cy="171.68" r="2.60" fill="#ea8430"/>
<circle cx="129.34" cy="172.35" r="2.60" fill="#ea8430"/>
<circle cx="135.32" cy="173.05" r="2.60" fill="#ea8430"/>
<circle cx="141.30" cy="173.77" r="2.60" fill="#ea8430"/>
<circle cx="147.28" cy="174.48" r="2.60" fill="#ea8430"/>
<circle cx="153.26" cy="175.18" r="2.60" fill="#ea8430"/>
<circle cx="159.24" cy="175.86" r="2.60" fill="#ea8430"/>
<circle cx="165.22" cy="176.50" r="2.60" fill="#ea8430"/>
<circle cx="171.20" cy="177.09" r="2.60" fill="#ea8430"/>
<circle cx="177.18" cy="177.64" r="2.60" fill="#ea8430"/>
<circle cx="183.16" cy="178.17" r="2.60" fill="#ea8430"/>
<circle cx="189.14" cy="178.69" r="2.60" fill="#ea8430"/>
<circle cx="195.12" cy="179.19" r="2.60" fill="#ea8430"/>
<circle cx="201.10" cy="179.69" r="2.60" fill="#ea8430"/>
<circle cx="207.08" cy="180.19" r="2.60" fill="#ea8430"/>
<circle cx="213.06" cy="180.70" r="2.60" fill="#ea8430"/>
<circle cx="219.04" cy="181.23" r="2.60" fill="#ea8430"/>
<circle cx="225.02" cy="181.77" r="2.60" fill="#ea8430"/>
<circle cx="231.00" cy="182.35" r="2.60" fill="#ea8430"/>
<circle cx="236.98" cy="182.93" r="2.60" fill="#ea8430"/>
<circle cx="242.96" cy="183.52" r="2.60" fill="#ea8430"/>
<circle cx="248.94" cy="184.13" r="2.60" fill="#ea8430"/>
<circle cx="254.92" cy="184.77" r="2.60" fill="#ea8430"/>
<circle cx="260.90" cy="185.46" r="2.60" fill="#ea8430"/>
<circle cx="266.88" cy="186.20" r="2.60" fill="#ea8430"/>
<circle cx="272.86" cy="187.04" r="2.60" fill="#ea8430"/>
<circle cx="278.84" cy="187.95" r="2.60" fill="#ea8430"/>
<circle cx="284.82" cy="188.86" r="2.60" fill="#ea8430"/>
<circle cx="290.80" cy="189.75" r="2.60" fill="#ea8430"/>
<path d="M51.60 165.43L57.58 169.97L63.56 180.10L69.54 186.30L75.52 188.28L81.50 188.97L87.48 189.88L93.46 190.73L99.44 191.31L105.42 191.80L111.40 192.28L117.38 192.76L123.36 193.23L129.34 193.69L135.32 194.14L141.30 194.57L147.28 195.00L153.26 195.42L159.24 195.83L165.22 196.23L171.20 196.62L177.18 197.00L183.16 197.36L189.14 197.71L195.12 198.06L201.10 198.40L207.08 198.74L213.06 199.08L219.04 199.42L225.02 199.76L231.00 200.11L236.98 200.45L242.96 200.79L248.94 201.13L254.92 201.46L260.90 201.80L266.88 202.14L272.86 202.50L278.84 202.86L284.82 203.24L290.80 203.65" stroke="#3fa2bc" stroke-width="1.2" fill="none" stroke-linejoin="round"/>
<path d="M49.30 165.43L53.90 165.43M51.60 163.13L51.60 167.73" stroke="#3fa2bc" stroke-width="0.9" fill="none"/>
<path d="M55.28 169.97L59.88 169.97M57.58 167.67L57.58 172.27" stroke="#3fa2bc" stroke-width="0.9" fill="none"/>
<path d="M61.26 180.10L65.86 180.10M63.56 177.80L63.56 182.40" stroke="#3fa2bc" stroke-width="0.9" fill="none"/>
<path d="M67.24 186.30L71.84 186.30M69.54 184.00L69.54 188.60" stroke="#3fa2bc" stroke-width="0.9" fill="none"/>
<path d="M73.22 188.28L77.82 188.28M75.52 185.98L75.52 190.58" stroke="#3fa2bc" stroke-width="0.9" fill="none"/>
<path d="M79.20 188.97L83.80 188.97M81.50 186.67L81.50 191.27" stroke="#3fa2bc" stroke-width="0.9" fill="none"/>
<path d="M85.18 189.88L89.78 189.88M87.48 187.58L87.48 192.18" stroke="#3fa2bc" stroke-width="0.9" fill="none"/>
<path d="M91.16 190.73L95.76 190.73M93.46 188.43L93.46 193.03" stroke="#3fa2bc" stroke-width="0.9" fill="none"/>
<path d="M97.14 191.31L101.74 191.31M99.44 189.01L99.44 193.61" stroke="#3fa2bc" stroke-width="0.9" fill="none"/>
<path d="M103.12 191.80L107.72 191.80M105.42 189.50L105.42 194.10" stroke="#3fa2bc" stroke-width="0.9" fill="none"/>
<path d="M109.10 192.28L113.70 192.28M111.40 189.98L111.40 194.58" stroke="#3fa2bc" stroke-width="0.9" fill="none"/>
<path d="M115.08 192.76L119.68 192.76M117.38 190.46L117.38 195.06" stroke="#3fa2bc" stroke-width="0.9" fill="none"/>
<path d="M121.06 193.23L125.66 193.23M123.36 190.93L123.36 195.53" stroke="#3fa2bc" stroke-width="0.9" fill="none"/>
<path d="M127.04 193.69L131.64 193.69M129.34 191.39L129.34 195.99" stroke="#3fa2bc" stroke-width="0.9" fill="none"/>
<path d="M133.02 194.14L137.62 194.14M135.32 191.84L135.32 196.44" stroke="#3fa2bc" stroke-width="0.9" fill="none"/>
<path d="M139.00 194.57L143.60 194.57M141.30 192.27L141.30 196.87" stroke="#3fa2bc" stroke-width="0.9" fill="none"/>
<path d="M144.98 195.00L149.58 195.00M147.28 192.70L147.28 197.30" stroke="#3fa2bc" stroke-width="0.9" fill="none"/>
<path d="M150.96 195.42L155.56 195.42M153.26 193.12L153.26 197.72" stroke="#3fa2bc" stroke-width="0.9" fill="none"/>
<path d="M156.94 195.83L161.54 195.83M159.24 193.53L159.24 198.13" stroke="#3fa2bc" stroke-width="0.9" fill="none"/>
<path d="M162.92 196.23L167.52 196.23M165.22 193.93L165.22 198.53" stroke="#3fa2bc" stroke-width="0.9" fill="none"/>
<path d="M168.90 196.62L173.50 196.62M171.20 194.32L171.20 198.92" stroke="#3fa2bc" stroke-width="0.9" fill="none"/>
<path d="M174.88 197.00L179.48 197.00M177.18 194.70L177.18 199.30" stroke="#3fa2bc" stroke-width="0.9" fill="none"/>
<path d="M180.86 197.36L185.46 197.36M183.16 195.06L183.16 199.66" stroke="#3fa2bc" stroke-width="0.9" fill="none"/>
<path d="M186.84 197.71L191.44 197.71M189.14 195.41L189.14 200.01" stroke="#3fa2bc" stroke-width="0.9" fill="none"/>
<path d="M192.82 198.06L197.42 198.06M195.12 195.76L195.12 200.36" stroke="#3fa2bc" stroke-width="0.9" fill="none"/>
<path d="M198.80 198.40L203.40 198.40M201.10 196.10L201.10 200.70" stroke="#3fa2bc" stroke-width="0.9" fill="none"/>
<path d="M204.78 198.74L209.38 198.74M207.08 196.44L207.08 201.04" stroke="#3fa2bc" stroke-width="0.9" fill="none"/>
<path d="M210.76 199.08L215.36 199.08M213.06 196.78L213.06 201.38" stroke="#3fa2bc" stroke-width="0.9" fill="none"/>
<path d="M216.74 199.42L221.34 199.42M219.04 197.12L219.04 201.72" stroke="#3fa2bc" stroke-width="0.9" fill="none"/>
<path d="M222.72 199.76L227.32 199.76M225.02 197.46L225.02 202.06" stroke="#3fa2bc" stroke-width="0.9" fill="none"/>
<path d="M228.70 200.11L233.30 200.11M231.00 197.81L231.00 202.41" stroke="#3fa2bc" stroke-width="0.9" fill="none"/>
<path d="M234.68 200.45L239.28 200.45M236.98 198.15L236.98 202.75" stroke="#3fa2bc" stroke-width="0.9" fill="none"/>
<path d="M240.66 200.79L245.26 200.79M242.96 198.49L242.96 203.09" stroke="#3fa2bc" stroke-width="0.9" fill="none"/>
<path d="M246.64 201.13L251.24 201.13M248.94 198.83L248.94 203.43" stroke="#3fa2bc" stroke-width="0.9" fill="none"/>
<path d="M252.62 201.46L257.22 201.46M254.92 199.16L254.92 203.76" stroke="#3fa2bc" stroke-width="0.9" fill="none"/>
<path d="M258.60 201.80L263.20 201.80M260.90 199.50L260.90 204.10" stroke="#3fa2bc" stroke-width="0.9" fill="none"/>
<path d="M264.58 202.14L269.18 202.14M266.88 199.84L266.88 204.44" stroke="#3fa2bc" stroke-width="0.9" fill="none"/>
<path d="M270.56 202.50L275.16 202.50M272.86 200.20L272.86 204.80" stroke="#3fa2bc" stroke-width="0.9" fill="none"/>
<path d="M276.54 202.86L281.14 202.86M278.84 200.56L278.84 205.16" stroke="#3fa2bc" stroke-width="0.9" fill="none"/>
<path d="M282.52 203.24L287.12 203.24M284.82 200.94L284.82 205.54" stroke="#3fa2bc" stroke-width="0.9" fill="none"/>
<path d="M288.50 203.65L293.10 203.65M290.80 201.35L290.80 205.95" stroke="#3fa2bc" stroke-width="0.9" fill="none"/>
<path d="M51.60 158.20L57.58 159.08L63.56 159.95L69.54 160.82L75.52 161.68L81.50 162.53L87.48 163.37L93.46 164.21L99.44 165.03L105.42 165.85L111.40 166.66L117.38 167.48L123.36 168.29L129.34 169.11L135.32 169.91L141.30 170.70L147.28 171.48L153.26 172.23L159.24 172.95L165.22 173.65L171.20 174.30L177.18 174.91L183.16 175.49L189.14 176.04L195.12 176.58L201.10 177.11L207.08 177.64L213.06 178.19L219.04 178.76L225.02 179.36L231.00 180.00L236.98 180.68L242.96 181.39L248.94 182.12L254.92 182.87L260.90 183.65L266.88 184.46L272.86 185.32L278.84 186.21L284.82 187.11L290.80 187.99" stroke="#b94340" stroke-width="1.6" fill="none" stroke-linejoin="round"/>
<rect x="49.15" y="155.75" width="4.90" height="4.90" fill="#b94340"/>
<rect x="55.13" y="156.63" width="4.90" height="4.90" fill="#b94340"/>
<rect x="61.11" y="157.50" width="4.90" height="4.90" fill="#b94340"/>
<rect x="67.09" y="158.37" width="4.90" height="4.90" fill="#b94340"/>
<rect x="73.07" y="159.23" width="4.90" height="4.90" fill="#b94340"/>
<rect x="79.05" y="160.08" width="4.90" height="4.90" fill="#b94340"/>
<rect x="85.03" y="160.92" width="4.90" height="4.90" fill="#b94340"/>
<rect x="91.01" y="161.76" width="4.90" height="4.90" fill="#b94340"/>
<rect x="96.99" y="162.58" width="4.90" height="4.90" fill="#b94340"/>
<rect x="102.97" y="163.40" width="4.90" height="4.90" fill="#b94340"/>
<rect x="108.95" y="164.21" width="4.90" height="4.90" fill="#b94340"/>
<rect x="114.93" y="165.03" width="4.90" height="4.90" fill="#b94340"/>
<rect x="120.91" y="165.84" width="4.90" height="4.90" fill="#b94340"/>
<rect x="126.89" y="166.66" width="4.90" height="4.90" fill="#b94340"/>
<rect x="132.87" y="167.46" width="4.90" height="4.90" fill="#b94340"/>
<rect x="138.85" y="168.25" width="4.90" height="4.90" fill="#b94340"/>
<rect x="144.83" y="169.03" width="4.90" height="4.90" fill="#b94340"/>
<rect x="150.81" y="169.78" width="4.90" height="4.90" fill="#b94340"/>
<rect x="156.79" y="170.50" width="4.90" height="4.90" fill="#b94340"/>
<rect x="162.77" y="171.20" width="4.90" height="4.90" fill="#b94340"/>
<rect x="168.75" y="171.85" width="4.90" height="4.90" fill="#b94340"/>
<rect x="174.73" y="172.46" width="4.90" height="4.90" fill="#b94340"/>
<rect x="180.71" y="173.04" width="4.90" height="4.90" fill="#b94340"/>
<rect x="186.69" y="173.59" width="4.90" height="4.90" fill="#b94340"/>
<rect x="192.67" y="174.13" width="4.90" height="4.90" fill="#b94340"/>
<rect x="198.65" y="174.66" width="4.90" height="4.90" fill="#b94340"/>
<rect x="204.63" y="175.19" width="4.90" height="4.90" fill="#b94340"/>
<rect x="210.61" y="175.74" width="4.90" height="4.90" fill="#b94340"/>
<rect x="216.59" y="176.31" width="4.90" height="4.90" fill="#b94340"/>
<rect x="222.57" y="176.91" width="4.90" height="4.90" fill="#b94340"/>
<rect x="228.55" y="177.55" width="4.90" height="4.90" fill="#b94340"/>
<rect x="234.53" y="178.23" width="4.90" height="4.90" fill="#b94340"/>
<rect x="240.51" y="178.94" width="4.90" height="4.90" fill="#b94340"/>
<rect x="246.49" y="179.67" width="4.90" height="4.90" fill="#b94340"/>
<rect x="252.47" y="180.42" width="4.90" height="4.90" fill="#b94340"/>
<rect x="258.45" y="181.20" width="4.90" height="4.90" fill="#b94340"/>
<rect x="264.43" y="182.01" width="4.90" height="4.90" fill="#b94340"/>
<rect x="270.41" y="182.87" width="4.90" height="4.90" fill="#b94340"/>
<rect x="276.39" y="183.76" width="4.90" height="4.90" fill="#b94340"/>
<rect x="282.37" y="184.66" width="4.90" height="4.90" fill="#b94340"/>
<rect x="288.35" y="185.54" width="4.90" height="4.90" fill="#b94340"/>
<path d="M51.60 167.14L57.58 168.55L63.56 179.10L69.54 179.11L75.52 185.74L81.50 186.96L87.48 188.80L93.46 190.03L99.44 191.34L105.42 191.78L111.40 192.27L117.38 192.81L123.36 193.36L129.34 193.90L135.32 194.43L141.30 194.91L147.28 195.37L153.26 195.82L159.24 196.25L165.22 196.67L171.20 197.06L177.18 197.44L183.16 197.81L189.14 198.16L195.12 198.51L201.10 198.85L207.08 199.19L213.06 199.52L219.04 199.86L225.02 200.20L231.00 200.55L236.98 200.89L242.96 201.23L248.94 201.57L254.92 201.90L260.90 202.24L266.88 202.58L272.86 202.94L278.84 203.30L284.82 203.68L290.80 204.09" stroke="#8aab45" stroke-width="1.6" fill="none" stroke-linejoin="round"/>
<path d="M51.60 164.44L54.30 169.84L48.90 169.84Z" fill="#8aab45"/>
<path d="M57.58 165.85L60.28 171.25L54.88 171.25Z" fill="#8aab45"/>
<path d="M63.56 176.40L66.26 181.80L60.86 181.80Z" fill="#8aab45"/>
<path d="M69.54 176.41L72.24 181.81L66.84 181.81Z" fill="#8aab45"/>
<path d="M75.52 183.04L78.22 188.44L72.82 188.44Z" fill="#8aab45"/>
<path d="M81.50 184.26L84.20 189.66L78.80 189.66Z" fill="#8aab45"/>
<path d="M87.48 186.10L90.18 191.50L84.78 191.50Z" fill="#8aab45"/>
<path d="M93.46 187.33L96.16 192.73L90.76 192.73Z" fill="#8aab45"/>
<path d="M99.44 188.64L102.14 194.04L96.74 194.04Z" fill="#8aab45"/>
<path d="M105.42 189.08L108.12 194.48L102.72 194.48Z" fill="#8aab45"/>
<path d="M111.40 189.57L114.10 194.97L108.70 194.97Z" fill="#8aab45"/>
<path d="M117.38 190.11L120.08 195.51L114.68 195.51Z" fill="#8aab45"/>
<path d="M123.36 190.66L126.06 196.06L120.66 196.06Z" fill="#8aab45"/>
<path d="M129.34 191.20L132.04 196.60L126.64 196.60Z" fill="#8aab45"/>
<path d="M135.32 191.73L138.02 197.13L132.62 197.13Z" fill="#8aab45"/>
<path d="M141.30 192.21L144.00 197.61L138.60 197.61Z" fill="#8aab45"/>
<path d="M147.28 192.67L149.98 198.07L144.58 198.07Z" fill="#8aab45"/>
<path d="M153.26 193.12L155.96 198.52L150.56 198.52Z" fill="#8aab45"/>
<path d="M159.24 193.55L161.94 198.95L156.54 198.95Z" fill="#8aab45"/>
<path d="M165.22 193.97L167.92 199.37L162.52 199.37Z" fill="#8aab45"/>
<path d="M171.20 194.36L173.90 199.76L168.50 199.76Z" fill="#8aab45"/>
<path d="M177.18 194.74L179.88 200.14L174.48 200.14Z" fill="#8aab45"/>
<path d="M183.16 195.11L185.86 200.51L180.46 200.51Z" fill="#8aab45"/>
<path d="M189.14 195.46L191.84 200.86L186.44 200.86Z" fill="#8aab45"/>
<path d="M195.12 195.81L197.82 201.21L192.42 201.21Z" fill="#8aab45"/>
<path d="M201.10 196.15L203.80 201.55L198.40 201.55Z" fill="#8aab45"/>
<path d="M207.08 196.49L209.78 201.89L204.38 201.89Z" fill="#8aab45"/>
<path d="M213.06 196.82L215.76 202.22L210.36 202.22Z" fill="#8aab45"/>
<path d="M219.04 197.16L221.74 202.56L216.34 202.56Z" fill="#8aab45"/>
<path d="M225.02 197.50L227.72 202.90L222.32 202.90Z" fill="#8aab45"/>
<path d="M231.00 197.85L233.70 203.25L228.30 203.25Z" fill="#8aab45"/>
<path d="M236.98 198.19L239.68 203.59L234.28 203.59Z" fill="#8aab45"/>
<path d="M242.96 198.53L245.66 203.93L240.26 203.93Z" fill="#8aab45"/>
<path d="M248.94 198.87L251.64 204.27L246.24 204.27Z" fill="#8aab45"/>
<path d="M254.92 199.20L257.62 204.60L252.22 204.60Z" fill="#8aab45"/>
<path d="M260.90 199.54L263.60 204.94L258.20 204.94Z" fill="#8aab45"/>
<path d="M266.88 199.88L269.58 205.28L264.18 205.28Z" fill="#8aab45"/>
<path d="M272.86 200.24L275.56 205.64L270.16 205.64Z" fill="#8aab45"/>
<path d="M278.84 200.60L281.54 206.00L276.14 206.00Z" fill="#8aab45"/>
<path d="M284.82 200.98L287.52 206.38L282.12 206.38Z" fill="#8aab45"/>
<path d="M290.80 201.39L293.50 206.79L288.10 206.79Z" fill="#8aab45"/>
<path d="M51.60 194.39L57.58 194.35L63.56 194.31L69.54 194.29L75.52 194.27L81.50 194.26L87.48 194.25L93.46 194.24L99.44 194.24L105.42 194.24L111.40 194.24L117.38 194.28L123.36 194.35L129.34 194.45L135.32 194.58L141.30 194.73L147.28 194.89L153.26 195.07L159.24 195.26L165.22 195.46L171.20 195.66L177.18 195.93L183.16 196.27L189.14 196.65L195.12 197.08L201.10 197.53L207.08 197.99L213.06 198.44L219.04 198.89L225.02 199.30L231.00 199.68L236.98 200.04L242.96 200.38L248.94 200.72L254.92 201.05L260.90 201.38L266.88 201.72L272.86 202.07L278.84 202.43L284.82 202.80L290.80 203.21" stroke="#3ba5c4" stroke-width="1.6" fill="none" stroke-linejoin="round"/>
<path d="M49.50 192.29L53.70 196.49M49.50 196.49L53.70 192.29M51.60 192.29L51.60 196.49" stroke="#3ba5c4" stroke-width="0.9" fill="none"/>
<path d="M55.48 192.25L59.68 196.45M55.48 196.45L59.68 192.25M57.58 192.25L57.58 196.45" stroke="#3ba5c4" stroke-width="0.9" fill="none"/>
<path d="M61.46 192.21L65.66 196.41M61.46 196.41L65.66 192.21M63.56 192.21L63.56 196.41" stroke="#3ba5c4" stroke-width="0.9" fill="none"/>
<path d="M67.44 192.19L71.64 196.39M67.44 196.39L71.64 192.19M69.54 192.19L69.54 196.39" stroke="#3ba5c4" stroke-width="0.9" fill="none"/>
<path d="M73.42 192.17L77.62 196.37M73.42 196.37L77.62 192.17M75.52 192.17L75.52 196.37" stroke="#3ba5c4" stroke-width="0.9" fill="none"/>
<path d="M79.40 192.16L83.60 196.36M79.40 196.36L83.60 192.16M81.50 192.16L81.50 196.36" stroke="#3ba5c4" stroke-width="0.9" fill="none"/>
<path d="M85.38 192.15L89.58 196.35M85.38 196.35L89.58 192.15M87.48 192.15L87.48 196.35" stroke="#3ba5c4" stroke-width="0.9" fill="none"/>
<path d="M91.36 192.14L95.56 196.34M91.36 196.34L95.56 192.14M93.46 192.14L93.46 196.34" stroke="#3ba5c4" stroke-width="0.9" fill="none"/>
<path d="M97.34 192.14L101.54 196.34M97.34 196.34L101.54 192.14M99.44 192.14L99.44 196.34" stroke="#3ba5c4" stroke-width="0.9" fill="none"/>
<path d="M103.32 192.14L107.52 196.34M103.32 196.34L107.52 192.14M105.42 192.14L105.42 196.34" stroke="#3ba5c4" stroke-width="0.9" fill="none"/>
<path d="M109.30 192.14L113.50 196.34M109.30 196.34L113.50 192.14M111.40 192.14L111.40 196.34" stroke="#3ba5c4" stroke-width="0.9" fill="none"/>
<path d="M115.28 192.18L119.48 196.38M115.28 196.38L119.48 192.18M117.38 192.18L117.38 196.38" stroke="#3ba5c4" stroke-width="0.9" fill="none"/>
<path d="M121.26 192.25L125.46 196.45M121.26 196.45L125.46 192.25M123.36 192.25L123.36 196.45" stroke="#3ba5c4" stroke-width="0.9" fill="none"/>
<path d="M127.24 192.35L131.44 196.55M127.24 196.55L131.44 192.35M129.34 192.35L129.34 196.55" stroke="#3ba5c4" stroke-width="0.9" fill="none"/>
<path d="M133.22 192.48L137.42 196.68M133.22 196.68L137.42 192.48M135.32 192.48L135.32 196.68" stroke="#3ba5c4" stroke-width="0.9" fill="none"/>
<path d="M139.20 192.63L143.40 196.83M139.20 196.83L143.40 192.63M141.30 192.63L141.30 196.83" stroke="#3ba5c4" stroke-width="0.9" fill="none"/>
<path d="M145.18 192.79L149.38 196.99M145.18 196.99L149.38 192.79M147.28 192.79L147.28 196.99" stroke="#3ba5c4" stroke-width="0.9" fill="none"/>
<path d="M151.16 192.97L155.36 197.17M151.16 197.17L155.36 192.97M153.26 192.97L153.26 197.17" stroke="#3ba5c4" stroke-width="0.9" fill="none"/>
<path d="M157.14 193.16L161.34 197.36M157.14 197.36L161.34 193.16M159.24 193.16L159.24 197.36" stroke="#3ba5c4" stroke-width="0.9" fill="none"/>
<path d="M163.12 193.36L167.32 197.56M163.12 197.56L167.32 193.36M165.22 193.36L165.22 197.56" stroke="#3ba5c4" stroke-width="0.9" fill="none"/>
<path d="M169.10 193.56L173.30 197.76M169.10 197.76L173.30 193.56M171.20 193.56L171.20 197.76" stroke="#3ba5c4" stroke-width="0.9" fill="none"/>
<path d="M175.08 193.83L179.28 198.03M175.08 198.03L179.28 193.83M177.18 193.83L177.18 198.03" stroke="#3ba5c4" stroke-width="0.9" fill="none"/>
<path d="M181.06 194.17L185.26 198.37M181.06 198.37L185.26 194.17M183.16 194.17L183.16 198.37" stroke="#3ba5c4" stroke-width="0.9" fill="none"/>
<path d="M187.04 194.55L191.24 198.75M187.04 198.75L191.24 194.55M189.14 194.55L189.14 198.75" stroke="#3ba5c4" stroke-width="0.9" fill="none"/>
<path d="M193.02 194.98L197.22 199.18M193.02 199.18L197.22 194.98M195.12 194.98L195.12 199.18" stroke="#3ba5c4" stroke-width="0.9" fill="none"/>
<path d="M199.00 195.43L203.20 199.63M199.00 199.63L203.20 195.43M201.10 195.43L201.10 199.63" stroke="#3ba5c4" stroke-width="0.9" fill="none"/>
<path d="M204.98 195.89L209.18 200.09M204.98 200.09L209.18 195.89M207.08 195.89L207.08 200.09" stroke="#3ba5c4" stroke-width="0.9" fill="none"/>
<path d="M210.96 196.34L215.16 200.54M210.96 200.54L215.16 196.34M213.06 196.34L213.06 200.54" stroke="#3ba5c4" stroke-width="0.9" fill="none"/>
<path d="M216.94 196.79L221.14 200.99M216.94 200.99L221.14 196.79M219.04 196.79L219.04 200.99" stroke="#3ba5c4" stroke-width="0.9" fill="none"/>
<path d="M222.92 197.20L227.12 201.40M222.92 201.40L227.12 197.20M225.02 197.20L225.02 201.40" stroke="#3ba5c4" stroke-width="0.9" fill="none"/>
<path d="M228.90 197.58L233.10 201.78M228.90 201.78L233.10 197.58M231.00 197.58L231.00 201.78" stroke="#3ba5c4" stroke-width="0.9" fill="none"/>
<path d="M234.88 197.94L239.08 202.14M234.88 202.14L239.08 197.94M236.98 197.94L236.98 202.14" stroke="#3ba5c4" stroke-width="0.9" fill="none"/>
<path d="M240.86 198.28L245.06 202.48M240.86 202.48L245.06 198.28M242.96 198.28L242.96 202.48" stroke="#3ba5c4" stroke-width="0.9" fill="none"/>
<path d="M246.84 198.62L251.04 202.82M246.84 202.82L251.04 198.62M248.94 198.62L248.94 202.82" stroke="#3ba5c4" stroke-width="0.9" fill="none"/>
<path d="M252.82 198.95L257.02 203.15M252.82 203.15L257.02 198.95M254.92 198.95L254.92 203.15" stroke="#3ba5c4" stroke-width="0.9" fill="none"/>
<path d="M258.80 199.28L263.00 203.48M258.80 203.48L263.00 199.28M260.90 199.28L260.90 203.48" stroke="#3ba5c4" stroke-width="0.9" fill="none"/>
<path d="M264.78 199.62L268.98 203.82M264.78 203.82L268.98 199.62M266.88 199.62L266.88 203.82" stroke="#3ba5c4" stroke-width="0.9" fill="none"/>
<path d="M270.76 199.97L274.96 204.17M270.76 204.17L274.96 199.97M272.86 199.97L272.86 204.17" stroke="#3ba5c4" stroke-width="0.9" fill="none"/>
<path d="M276.74 200.33L280.94 204.53M276.74 204.53L280.94 200.33M278.84 200.33L278.84 204.53" stroke="#3ba5c4" stroke-width="0.9" fill="none"/>
<path d="M282.72 200.70L286.92 204.90M282.72 204.90L286.92 200.70M284.82 200.70L284.82 204.90" stroke="#3ba5c4" stroke-width="0.9" fill="none"/>
<path d="M288.70 201.11L292.90 205.31M288.70 205.31L292.90 201.11M290.80 201.11L290.80 205.31" stroke="#3ba5c4" stroke-width="0.9" fill="none"/>
<path d="M48.40 138.80L48.40 229.30M45.90 226.80L294.00 226.80" stroke="#505050" stroke-width="1.25" fill="none"/>
<path d="M45.60 226.80L48.40 226.80" stroke="#505050" stroke-width="1.25"/>
<text x="38.60" y="229.80" font-family='"Liberation Sans", sans-serif' font-size="8.5" font-weight="bold" text-anchor="end" fill="#000" textLength="16.20" lengthAdjust="spacingAndGlyphs" stroke="#000" stroke-width="0.3">0.00</text>
<path d="M45.60 209.20L48.40 209.20" stroke="#505050" stroke-width="1.25"/>
<text x="38.60" y="212.20" font-family='"Liberation Sans", sans-serif' font-size="8.5" font-weight="bold" text-anchor="end" fill="#000" textLength="16.20" lengthAdjust="spacingAndGlyphs" stroke="#000" stroke-width="0.3">0.20</text>
<path d="M45.60 191.60L48.40 191.60" stroke="#505050" stroke-width="1.25"/>
<text x="38.60" y="194.60" font-family='"Liberation Sans", sans-serif' font-size="8.5" font-weight="bold" text-anchor="end" fill="#000" textLength="16.20" lengthAdjust="spacingAndGlyphs" stroke="#000" stroke-width="0.3">0.40</text>
<path d="M45.60 174.00L48.40 174.00" stroke="#505050" stroke-width="1.25"/>
<text x="38.60" y="177.00" font-family='"Liberation Sans", sans-serif' font-size="8.5" font-weight="bold" text-anchor="end" fill="#000" textLength="16.20" lengthAdjust="spacingAndGlyphs" stroke="#000" stroke-width="0.3">0.60</text>
<path d="M45.60 156.40L48.40 156.40" stroke="#505050" stroke-width="1.25"/>
<text x="38.60" y="159.40" font-family='"Liberation Sans", sans-serif' font-size="8.5" font-weight="bold" text-anchor="end" fill="#000" textLength="16.20" lengthAdjust="spacingAndGlyphs" stroke="#000" stroke-width="0.3">0.80</text>
<path d="M45.60 138.80L48.40 138.80" stroke="#505050" stroke-width="1.25"/>
<text x="38.60" y="141.80" font-family='"Liberation Sans", sans-serif' font-size="8.5" font-weight="bold" text-anchor="end" fill="#000" textLength="16.20" lengthAdjust="spacingAndGlyphs" stroke="#000" stroke-width="0.3">1.00</text>
<path d="M48.40 226.80L48.40 229.60" stroke="#505050" stroke-width="1.25"/>
<text x="51.80" y="239.60" font-family='"Liberation Sans", sans-serif' font-size="8.5" font-weight="bold" text-anchor="middle" fill="#000" textLength="4.50" lengthAdjust="spacingAndGlyphs" stroke="#000" stroke-width="0.3">0</text>
<path d="M108.40 226.80L108.40 229.60" stroke="#505050" stroke-width="1.25"/>
<text x="111.80" y="239.60" font-family='"Liberation Sans", sans-serif' font-size="8.5" font-weight="bold" text-anchor="middle" fill="#000" textLength="4.50" lengthAdjust="spacingAndGlyphs" stroke="#000" stroke-width="0.3">1</text>
<path d="M168.40 226.80L168.40 229.60" stroke="#505050" stroke-width="1.25"/>
<text x="171.80" y="239.60" font-family='"Liberation Sans", sans-serif' font-size="8.5" font-weight="bold" text-anchor="middle" fill="#000" textLength="9.00" lengthAdjust="spacingAndGlyphs" stroke="#000" stroke-width="0.3">10</text>
<path d="M228.40 226.80L228.40 229.60" stroke="#505050" stroke-width="1.25"/>
<text x="231.80" y="239.60" font-family='"Liberation Sans", sans-serif' font-size="8.5" font-weight="bold" text-anchor="middle" fill="#000" textLength="13.50" lengthAdjust="spacingAndGlyphs" stroke="#000" stroke-width="0.3">100</text>
<path d="M288.40 226.80L288.40 229.60" stroke="#505050" stroke-width="1.25"/>
<text x="291.80" y="239.60" font-family='"Liberation Sans", sans-serif' font-size="8.5" font-weight="bold" text-anchor="middle" fill="#000" textLength="18.00" lengthAdjust="spacingAndGlyphs" stroke="#000" stroke-width="0.3">1000</text>
<text x="15.00" y="183.20" font-family='"Liberation Sans", sans-serif' font-size="8.8" font-weight="bold" text-anchor="middle" fill="#000" textLength="68.40" lengthAdjust="spacingAndGlyphs" transform="rotate(-90 15.00 183.20)" stroke="#000" stroke-width="0.3">Viscosity (Pa·s)</text>
<text x="194.80" y="252.30" font-family='"Liberation Sans", sans-serif' font-size="8.8" font-weight="bold" text-anchor="middle" fill="#000" textLength="68.10" lengthAdjust="spacingAndGlyphs" stroke="#000" stroke-width="0.3">Shear rate (s<tspan font-size="5.8" dy="-3.0">−1</tspan><tspan dy="3.0">)</tspan></text>
<path d="M301.70 145.00L314.40 145.00" stroke="#4176b6" stroke-width="1.7"/>
<path d="M308.05 142.71L310.34 145.00L308.05 147.29L305.75 145.00Z" fill="#4176b6"/>
<text x="315.60" y="148.20" font-family='"Liberation Sans", sans-serif' font-size="9" font-weight="bold" text-anchor="start" fill="#000" textLength="34.20" lengthAdjust="spacingAndGlyphs" stroke="#000" stroke-width="0.3">CP1LVM</text>
<path d="M301.70 157.58L314.40 157.58" stroke="#7455a0" stroke-width="1.7"/>
<path d="M305.80 155.33L310.30 159.83M305.80 159.83L310.30 155.33" stroke="#7455a0" stroke-width="1.05" fill="none"/>
<text x="315.60" y="160.78" font-family='"Liberation Sans", sans-serif' font-size="9" font-weight="bold" text-anchor="start" fill="#000" textLength="58.50" lengthAdjust="spacingAndGlyphs" stroke="#000" stroke-width="0.3">CP1LVM (TEA)</text>
<path d="M301.70 170.16L314.40 170.16" stroke="#ea8430" stroke-width="1.7"/>
<circle cx="308.05" cy="170.16" r="2.34" fill="#ea8430"/>
<text x="315.60" y="173.36" font-family='"Liberation Sans", sans-serif' font-size="9" font-weight="bold" text-anchor="start" fill="#000" textLength="34.20" lengthAdjust="spacingAndGlyphs" stroke="#000" stroke-width="0.3">CP2LVM</text>
<path d="M301.70 182.74L314.40 182.74" stroke="#3fa2bc" stroke-width="1.7"/>
<path d="M305.75 182.74L310.35 182.74M308.05 180.44L308.05 185.04" stroke="#3fa2bc" stroke-width="0.9" fill="none"/>
<text x="315.60" y="185.94" font-family='"Liberation Sans", sans-serif' font-size="9" font-weight="bold" text-anchor="start" fill="#000" textLength="58.50" lengthAdjust="spacingAndGlyphs" stroke="#000" stroke-width="0.3">CP2LVM (TEA)</text>
<path d="M301.70 195.32L314.40 195.32" stroke="#b94340" stroke-width="1.7"/>
<rect x="305.84" y="193.11" width="4.41" height="4.41" fill="#b94340"/>
<text x="315.60" y="198.52" font-family='"Liberation Sans", sans-serif' font-size="9" font-weight="bold" text-anchor="start" fill="#000" textLength="34.20" lengthAdjust="spacingAndGlyphs" stroke="#000" stroke-width="0.3">CP3LVM</text>
<path d="M301.70 207.90L314.40 207.90" stroke="#8aab45" stroke-width="1.7"/>
<path d="M308.05 205.47L310.48 210.33L305.62 210.33Z" fill="#8aab45"/>
<text x="315.60" y="211.10" font-family='"Liberation Sans", sans-serif' font-size="9" font-weight="bold" text-anchor="start" fill="#000" textLength="58.50" lengthAdjust="spacingAndGlyphs" stroke="#000" stroke-width="0.3">CP3LVM (TEA)</text>
<path d="M301.70 220.48L314.40 220.48" stroke="#3ba5c4" stroke-width="1.7"/>
<path d="M305.95 218.38L310.15 222.58M305.95 222.58L310.15 218.38M308.05 218.38L308.05 222.58" stroke="#3ba5c4" stroke-width="0.9" fill="none"/>
<text x="315.60" y="223.68" font-family='"Liberation Sans", sans-serif' font-size="9" font-weight="bold" text-anchor="start" fill="#000" textLength="18.40" lengthAdjust="spacingAndGlyphs" stroke="#000" stroke-width="0.3">LVM</text>
<text x="421.40" y="195.40" font-family='"Liberation Serif", serif' font-size="10.5" font-weight="normal" text-anchor="middle" fill="#000" stroke="#000" stroke-width="0.12">(<tspan font-weight="bold">b</tspan>)</text>
</g>
<g>
<path d="M50.00 361.82L56.21 361.82L62.42 361.83L68.63 361.84L74.84 361.86L81.05 361.88L87.26 361.90L93.47 361.93L99.68 361.96L105.89 361.98L112.10 362.01L118.31 362.04L124.52 362.08L130.73 362.12L136.94 362.17L143.15 362.22L149.36 362.28L155.57 362.34L161.78 362.41L167.99 362.49L174.20 362.58L180.41 362.72L186.62 362.89L192.83 363.09L199.04 363.32L205.25 363.55L211.46 363.79L217.67 364.02L223.88 364.23L230.09 364.42L236.30 364.57L242.51 364.72L248.72 364.86L254.93 365.00L261.14 365.13L267.35 365.25L273.56 365.37L279.77 365.48L285.98 365.59L292.19 365.69L298.40 365.79" stroke="#7455a0" stroke-width="1.6" fill="none" stroke-linejoin="round"/>
<path d="M47.75 359.57L52.25 364.07M47.75 364.07L52.25 359.57" stroke="#7455a0" stroke-width="1.05" fill="none"/>
<path d="M53.96 359.57L58.46 364.07M53.96 364.07L58.46 359.57" stroke="#7455a0" stroke-width="1.05" fill="none"/>
<path d="M60.17 359.58L64.67 364.08M60.17 364.08L64.67 359.58" stroke="#7455a0" stroke-width="1.05" fill="none"/>
<path d="M66.38 359.59L70.88 364.09M66.38 364.09L70.88 359.59" stroke="#7455a0" stroke-width="1.05" fill="none"/>
<path d="M72.59 359.61L77.09 364.11M72.59 364.11L77.09 359.61" stroke="#7455a0" stroke-width="1.05" fill="none"/>
<path d="M78.80 359.63L83.30 364.13M78.80 364.13L83.30 359.63" stroke="#7455a0" stroke-width="1.05" fill="none"/>
<path d="M85.01 359.65L89.51 364.15M85.01 364.15L89.51 359.65" stroke="#7455a0" stroke-width="1.05" fill="none"/>
<path d="M91.22 359.68L95.72 364.18M91.22 364.18L95.72 359.68" stroke="#7455a0" stroke-width="1.05" fill="none"/>
<path d="M97.43 359.71L101.93 364.21M97.43 364.21L101.93 359.71" stroke="#7455a0" stroke-width="1.05" fill="none"/>
<path d="M103.64 359.73L108.14 364.23M103.64 364.23L108.14 359.73" stroke="#7455a0" stroke-width="1.05" fill="none"/>
<path d="M109.85 359.76L114.35 364.26M109.85 364.26L114.35 359.76" stroke="#7455a0" stroke-width="1.05" fill="none"/>
<path d="M116.06 359.79L120.56 364.29M116.06 364.29L120.56 359.79" stroke="#7455a0" stroke-width="1.05" fill="none"/>
<path d="M122.27 359.83L126.77 364.33M122.27 364.33L126.77 359.83" stroke="#7455a0" stroke-width="1.05" fill="none"/>
<path d="M128.48 359.87L132.98 364.37M128.48 364.37L132.98 359.87" stroke="#7455a0" stroke-width="1.05" fill="none"/>
<path d="M134.69 359.92L139.19 364.42M134.69 364.42L139.19 359.92" stroke="#7455a0" stroke-width="1.05" fill="none"/>
<path d="M140.90 359.97L145.40 364.47M140.90 364.47L145.40 359.97" stroke="#7455a0" stroke-width="1.05" fill="none"/>
<path d="M147.11 360.03L151.61 364.53M147.11 364.53L151.61 360.03" stroke="#7455a0" stroke-width="1.05" fill="none"/>
<path d="M153.32 360.09L157.82 364.59M153.32 364.59L157.82 360.09" stroke="#7455a0" stroke-width="1.05" fill="none"/>
<path d="M159.53 360.16L164.03 364.66M159.53 364.66L164.03 360.16" stroke="#7455a0" stroke-width="1.05" fill="none"/>
<path d="M165.74 360.24L170.24 364.74M165.74 364.74L170.24 360.24" stroke="#7455a0" stroke-width="1.05" fill="none"/>
<path d="M171.95 360.33L176.45 364.83M171.95 364.83L176.45 360.33" stroke="#7455a0" stroke-width="1.05" fill="none"/>
<path d="M178.16 360.47L182.66 364.97M178.16 364.97L182.66 360.47" stroke="#7455a0" stroke-width="1.05" fill="none"/>
<path d="M184.37 360.64L188.87 365.14M184.37 365.14L188.87 360.64" stroke="#7455a0" stroke-width="1.05" fill="none"/>
<path d="M190.58 360.84L195.08 365.34M190.58 365.34L195.08 360.84" stroke="#7455a0" stroke-width="1.05" fill="none"/>
<path d="M196.79 361.07L201.29 365.57M196.79 365.57L201.29 361.07" stroke="#7455a0" stroke-width="1.05" fill="none"/>
<path d="M203.00 361.30L207.50 365.80M203.00 365.80L207.50 361.30" stroke="#7455a0" stroke-width="1.05" fill="none"/>
<path d="M209.21 361.54L213.71 366.04M209.21 366.04L213.71 361.54" stroke="#7455a0" stroke-width="1.05" fill="none"/>
<path d="M215.42 361.77L219.92 366.27M215.42 366.27L219.92 361.77" stroke="#7455a0" stroke-width="1.05" fill="none"/>
<path d="M221.63 361.98L226.13 366.48M221.63 366.48L226.13 361.98" stroke="#7455a0" stroke-width="1.05" fill="none"/>
<path d="M227.84 362.17L232.34 366.67M227.84 366.67L232.34 362.17" stroke="#7455a0" stroke-width="1.05" fill="none"/>
<path d="M234.05 362.32L238.55 366.82M234.05 366.82L238.55 362.32" stroke="#7455a0" stroke-width="1.05" fill="none"/>
<path d="M240.26 362.47L244.76 366.97M240.26 366.97L244.76 362.47" stroke="#7455a0" stroke-width="1.05" fill="none"/>
<path d="M246.47 362.61L250.97 367.11M246.47 367.11L250.97 362.61" stroke="#7455a0" stroke-width="1.05" fill="none"/>
<path d="M252.68 362.75L257.18 367.25M252.68 367.25L257.18 362.75" stroke="#7455a0" stroke-width="1.05" fill="none"/>
<path d="M258.89 362.88L263.39 367.38M258.89 367.38L263.39 362.88" stroke="#7455a0" stroke-width="1.05" fill="none"/>
<path d="M265.10 363.00L269.60 367.50M265.10 367.50L269.60 363.00" stroke="#7455a0" stroke-width="1.05" fill="none"/>
<path d="M271.31 363.12L275.81 367.62M271.31 367.62L275.81 363.12" stroke="#7455a0" stroke-width="1.05" fill="none"/>
<path d="M277.52 363.23L282.02 367.73M277.52 367.73L282.02 363.23" stroke="#7455a0" stroke-width="1.05" fill="none"/>
<path d="M283.73 363.34L288.23 367.84M283.73 367.84L288.23 363.34" stroke="#7455a0" stroke-width="1.05" fill="none"/>
<path d="M289.94 363.44L294.44 367.94M289.94 367.94L294.44 363.44" stroke="#7455a0" stroke-width="1.05" fill="none"/>
<path d="M296.15 363.54L300.65 368.04M296.15 368.04L300.65 363.54" stroke="#7455a0" stroke-width="1.05" fill="none"/>
<path d="M50.00 337.06L56.21 339.01L62.42 340.83L68.63 342.53L74.84 344.12L81.05 345.60L87.26 346.88L93.47 347.97L99.68 348.93L105.89 349.82L112.10 350.69L118.31 351.51L124.52 352.29L130.73 353.07L136.94 353.87L143.15 354.70L149.36 355.53L155.57 356.35L161.78 357.16L167.99 357.92L174.20 358.64L180.41 359.34L186.62 360.02L192.83 360.63L199.04 361.18L205.25 361.67L211.46 362.12L217.67 362.55L223.88 362.93L230.09 363.28L236.30 363.59L242.51 363.88L248.72 364.17L254.93 364.45L261.14 364.71L267.35 364.95L273.56 365.17L279.77 365.37L285.98 365.54L292.19 365.68L298.40 365.79" stroke="#94b850" stroke-width="1.6" fill="none" stroke-linejoin="round"/>
<path d="M50.00 334.36L52.70 339.76L47.30 339.76Z" fill="#94b850"/>
<path d="M56.21 336.31L58.91 341.71L53.51 341.71Z" fill="#94b850"/>
<path d="M62.42 338.13L65.12 343.53L59.72 343.53Z" fill="#94b850"/>
<path d="M68.63 339.83L71.33 345.23L65.93 345.23Z" fill="#94b850"/>
<path d="M74.84 341.42L77.54 346.82L72.14 346.82Z" fill="#94b850"/>
<path d="M81.05 342.90L83.75 348.30L78.35 348.30Z" fill="#94b850"/>
<path d="M87.26 344.18L89.96 349.58L84.56 349.58Z" fill="#94b850"/>
<path d="M93.47 345.27L96.17 350.67L90.77 350.67Z" fill="#94b850"/>
<path d="M99.68 346.23L102.38 351.63L96.98 351.63Z" fill="#94b850"/>
<path d="M105.89 347.12L108.59 352.52L103.19 352.52Z" fill="#94b850"/>
<path d="M112.10 347.99L114.80 353.39L109.40 353.39Z" fill="#94b850"/>
<path d="M118.31 348.81L121.01 354.21L115.61 354.21Z" fill="#94b850"/>
<path d="M124.52 349.59L127.22 354.99L121.82 354.99Z" fill="#94b850"/>
<path d="M130.73 350.37L133.43 355.77L128.03 355.77Z" fill="#94b850"/>
<path d="M136.94 351.17L139.64 356.57L134.24 356.57Z" fill="#94b850"/>
<path d="M143.15 352.00L145.85 357.40L140.45 357.40Z" fill="#94b850"/>
<path d="M149.36 352.83L152.06 358.23L146.66 358.23Z" fill="#94b850"/>
<path d="M155.57 353.65L158.27 359.05L152.87 359.05Z" fill="#94b850"/>
<path d="M161.78 354.46L164.48 359.86L159.08 359.86Z" fill="#94b850"/>
<path d="M167.99 355.22L170.69 360.62L165.29 360.62Z" fill="#94b850"/>
<path d="M174.20 355.94L176.90 361.34L171.50 361.34Z" fill="#94b850"/>
<path d="M180.41 356.64L183.11 362.04L177.71 362.04Z" fill="#94b850"/>
<path d="M186.62 357.32L189.32 362.72L183.92 362.72Z" fill="#94b850"/>
<path d="M192.83 357.93L195.53 363.33L190.13 363.33Z" fill="#94b850"/>
<path d="M199.04 358.48L201.74 363.88L196.34 363.88Z" fill="#94b850"/>
<path d="M205.25 358.97L207.95 364.37L202.55 364.37Z" fill="#94b850"/>
<path d="M211.46 359.42L214.16 364.82L208.76 364.82Z" fill="#94b850"/>
<path d="M217.67 359.85L220.37 365.25L214.97 365.25Z" fill="#94b850"/>
<path d="M223.88 360.23L226.58 365.63L221.18 365.63Z" fill="#94b850"/>
<path d="M230.09 360.58L232.79 365.98L227.39 365.98Z" fill="#94b850"/>
<path d="M236.30 360.89L239.00 366.29L233.60 366.29Z" fill="#94b850"/>
<path d="M242.51 361.18L245.21 366.58L239.81 366.58Z" fill="#94b850"/>
<path d="M248.72 361.47L251.42 366.87L246.02 366.87Z" fill="#94b850"/>
<path d="M254.93 361.75L257.63 367.15L252.23 367.15Z" fill="#94b850"/>
<path d="M261.14 362.01L263.84 367.41L258.44 367.41Z" fill="#94b850"/>
<path d="M267.35 362.25L270.05 367.65L264.65 367.65Z" fill="#94b850"/>
<path d="M273.56 362.47L276.26 367.87L270.86 367.87Z" fill="#94b850"/>
<path d="M279.77 362.67L282.47 368.07L277.07 368.07Z" fill="#94b850"/>
<path d="M285.98 362.84L288.68 368.24L283.28 368.24Z" fill="#94b850"/>
<path d="M292.19 362.98L294.89 368.38L289.49 368.38Z" fill="#94b850"/>
<path d="M298.40 363.09L301.10 368.49L295.70 368.49Z" fill="#94b850"/>
<path d="M50.00 346.87L56.21 346.98L62.42 347.12L68.63 347.28L74.84 347.46L81.05 347.65L87.26 347.87L93.47 348.12L99.68 348.42L105.89 348.78L112.10 349.25L118.31 349.97L124.52 350.88L130.73 351.87L136.94 352.84L143.15 353.74L149.36 354.66L155.57 355.60L161.78 356.51L167.99 357.36L174.20 358.13L180.41 358.86L186.62 359.55L192.83 360.18L199.04 360.73L205.25 361.24L211.46 361.71L217.67 362.15L223.88 362.55L230.09 362.91L236.30 363.24L242.51 363.54L248.72 363.83L254.93 364.10L261.14 364.36L267.35 364.60L273.56 364.83L279.77 365.05L285.98 365.27L292.19 365.47L298.40 365.66" stroke="#b94340" stroke-width="1.6" fill="none" stroke-linejoin="round"/>
<rect x="47.55" y="344.42" width="4.90" height="4.90" fill="#b94340"/>
<rect x="53.76" y="344.53" width="4.90" height="4.90" fill="#b94340"/>
<rect x="59.97" y="344.67" width="4.90" height="4.90" fill="#b94340"/>
<rect x="66.18" y="344.83" width="4.90" height="4.90" fill="#b94340"/>
<rect x="72.39" y="345.01" width="4.90" height="4.90" fill="#b94340"/>
<rect x="78.60" y="345.20" width="4.90" height="4.90" fill="#b94340"/>
<rect x="84.81" y="345.42" width="4.90" height="4.90" fill="#b94340"/>
<rect x="91.02" y="345.67" width="4.90" height="4.90" fill="#b94340"/>
<rect x="97.23" y="345.97" width="4.90" height="4.90" fill="#b94340"/>
<rect x="103.44" y="346.33" width="4.90" height="4.90" fill="#b94340"/>
<rect x="109.65" y="346.80" width="4.90" height="4.90" fill="#b94340"/>
<rect x="115.86" y="347.52" width="4.90" height="4.90" fill="#b94340"/>
<rect x="122.07" y="348.43" width="4.90" height="4.90" fill="#b94340"/>
<rect x="128.28" y="349.42" width="4.90" height="4.90" fill="#b94340"/>
<rect x="134.49" y="350.39" width="4.90" height="4.90" fill="#b94340"/>
<rect x="140.70" y="351.29" width="4.90" height="4.90" fill="#b94340"/>
<rect x="146.91" y="352.21" width="4.90" height="4.90" fill="#b94340"/>
<rect x="153.12" y="353.15" width="4.90" height="4.90" fill="#b94340"/>
<rect x="159.33" y="354.06" width="4.90" height="4.90" fill="#b94340"/>
<rect x="165.54" y="354.91" width="4.90" height="4.90" fill="#b94340"/>
<rect x="171.75" y="355.68" width="4.90" height="4.90" fill="#b94340"/>
<rect x="177.96" y="356.41" width="4.90" height="4.90" fill="#b94340"/>
<rect x="184.17" y="357.10" width="4.90" height="4.90" fill="#b94340"/>
<rect x="190.38" y="357.73" width="4.90" height="4.90" fill="#b94340"/>
<rect x="196.59" y="358.28" width="4.90" height="4.90" fill="#b94340"/>
<rect x="202.80" y="358.79" width="4.90" height="4.90" fill="#b94340"/>
<rect x="209.01" y="359.26" width="4.90" height="4.90" fill="#b94340"/>
<rect x="215.22" y="359.70" width="4.90" height="4.90" fill="#b94340"/>
<rect x="221.43" y="360.10" width="4.90" height="4.90" fill="#b94340"/>
<rect x="227.64" y="360.46" width="4.90" height="4.90" fill="#b94340"/>
<rect x="233.85" y="360.79" width="4.90" height="4.90" fill="#b94340"/>
<rect x="240.06" y="361.09" width="4.90" height="4.90" fill="#b94340"/>
<rect x="246.27" y="361.38" width="4.90" height="4.90" fill="#b94340"/>
<rect x="252.48" y="361.65" width="4.90" height="4.90" fill="#b94340"/>
<rect x="258.69" y="361.91" width="4.90" height="4.90" fill="#b94340"/>
<rect x="264.90" y="362.15" width="4.90" height="4.90" fill="#b94340"/>
<rect x="271.11" y="362.38" width="4.90" height="4.90" fill="#b94340"/>
<rect x="277.32" y="362.60" width="4.90" height="4.90" fill="#b94340"/>
<rect x="283.53" y="362.82" width="4.90" height="4.90" fill="#b94340"/>
<rect x="289.74" y="363.02" width="4.90" height="4.90" fill="#b94340"/>
<rect x="295.95" y="363.21" width="4.90" height="4.90" fill="#b94340"/>
<path d="M50.00 291.96L56.21 294.52L62.42 297.25L68.63 300.13L74.84 303.18L81.05 306.55L87.26 310.19L93.47 313.94L99.68 317.67L105.89 321.23L112.10 324.51L118.31 327.64L124.52 330.65L130.73 333.58L136.94 336.47L143.15 339.46L149.36 342.44L155.57 345.30L161.78 347.90L167.99 350.10L174.20 351.85L180.41 353.39L186.62 354.80L192.83 356.08L199.04 357.25L205.25 358.34L211.46 359.36L217.67 360.32L223.88 361.26L230.09 362.08L236.30 362.61L242.51 363.04L248.72 363.43L254.93 363.78L261.14 364.09L267.35 364.37L273.56 364.62L279.77 364.85L285.98 365.08L292.19 365.29L298.40 365.49" stroke="#4176b6" stroke-width="1.6" fill="none" stroke-linejoin="round"/>
<path d="M50.00 289.41L52.55 291.96L50.00 294.51L47.45 291.96Z" fill="#4176b6"/>
<path d="M56.21 291.97L58.76 294.52L56.21 297.07L53.66 294.52Z" fill="#4176b6"/>
<path d="M62.42 294.70L64.97 297.25L62.42 299.80L59.87 297.25Z" fill="#4176b6"/>
<path d="M68.63 297.58L71.18 300.13L68.63 302.68L66.08 300.13Z" fill="#4176b6"/>
<path d="M74.84 300.63L77.39 303.18L74.84 305.73L72.29 303.18Z" fill="#4176b6"/>
<path d="M81.05 304.00L83.60 306.55L81.05 309.10L78.50 306.55Z" fill="#4176b6"/>
<path d="M87.26 307.64L89.81 310.19L87.26 312.74L84.71 310.19Z" fill="#4176b6"/>
<path d="M93.47 311.39L96.02 313.94L93.47 316.49L90.92 313.94Z" fill="#4176b6"/>
<path d="M99.68 315.12L102.23 317.67L99.68 320.22L97.13 317.67Z" fill="#4176b6"/>
<path d="M105.89 318.68L108.44 321.23L105.89 323.78L103.34 321.23Z" fill="#4176b6"/>
<path d="M112.10 321.96L114.65 324.51L112.10 327.06L109.55 324.51Z" fill="#4176b6"/>
<path d="M118.31 325.09L120.86 327.64L118.31 330.19L115.76 327.64Z" fill="#4176b6"/>
<path d="M124.52 328.10L127.07 330.65L124.52 333.20L121.97 330.65Z" fill="#4176b6"/>
<path d="M130.73 331.03L133.28 333.58L130.73 336.13L128.18 333.58Z" fill="#4176b6"/>
<path d="M136.94 333.92L139.49 336.47L136.94 339.02L134.39 336.47Z" fill="#4176b6"/>
<path d="M143.15 336.91L145.70 339.46L143.15 342.01L140.60 339.46Z" fill="#4176b6"/>
<path d="M149.36 339.89L151.91 342.44L149.36 344.99L146.81 342.44Z" fill="#4176b6"/>
<path d="M155.57 342.75L158.12 345.30L155.57 347.85L153.02 345.30Z" fill="#4176b6"/>
<path d="M161.78 345.35L164.33 347.90L161.78 350.45L159.23 347.90Z" fill="#4176b6"/>
<path d="M167.99 347.55L170.54 350.10L167.99 352.65L165.44 350.10Z" fill="#4176b6"/>
<path d="M174.20 349.30L176.75 351.85L174.20 354.40L171.65 351.85Z" fill="#4176b6"/>
<path d="M180.41 350.84L182.96 353.39L180.41 355.94L177.86 353.39Z" fill="#4176b6"/>
<path d="M186.62 352.25L189.17 354.80L186.62 357.35L184.07 354.80Z" fill="#4176b6"/>
<path d="M192.83 353.53L195.38 356.08L192.83 358.63L190.28 356.08Z" fill="#4176b6"/>
<path d="M199.04 354.70L201.59 357.25L199.04 359.80L196.49 357.25Z" fill="#4176b6"/>
<path d="M205.25 355.79L207.80 358.34L205.25 360.89L202.70 358.34Z" fill="#4176b6"/>
<path d="M211.46 356.81L214.01 359.36L211.46 361.91L208.91 359.36Z" fill="#4176b6"/>
<path d="M217.67 357.77L220.22 360.32L217.67 362.87L215.12 360.32Z" fill="#4176b6"/>
<path d="M223.88 358.71L226.43 361.26L223.88 363.81L221.33 361.26Z" fill="#4176b6"/>
<path d="M230.09 359.53L232.64 362.08L230.09 364.63L227.54 362.08Z" fill="#4176b6"/>
<path d="M236.30 360.06L238.85 362.61L236.30 365.16L233.75 362.61Z" fill="#4176b6"/>
<path d="M242.51 360.49L245.06 363.04L242.51 365.59L239.96 363.04Z" fill="#4176b6"/>
<path d="M248.72 360.88L251.27 363.43L248.72 365.98L246.17 363.43Z" fill="#4176b6"/>
<path d="M254.93 361.23L257.48 363.78L254.93 366.33L252.38 363.78Z" fill="#4176b6"/>
<path d="M261.14 361.54L263.69 364.09L261.14 366.64L258.59 364.09Z" fill="#4176b6"/>
<path d="M267.35 361.82L269.90 364.37L267.35 366.92L264.80 364.37Z" fill="#4176b6"/>
<path d="M273.56 362.07L276.11 364.62L273.56 367.17L271.01 364.62Z" fill="#4176b6"/>
<path d="M279.77 362.30L282.32 364.85L279.77 367.40L277.22 364.85Z" fill="#4176b6"/>
<path d="M285.98 362.53L288.53 365.08L285.98 367.63L283.43 365.08Z" fill="#4176b6"/>
<path d="M292.19 362.74L294.74 365.29L292.19 367.84L289.64 365.29Z" fill="#4176b6"/>
<path d="M298.40 362.94L300.95 365.49L298.40 368.04L295.85 365.49Z" fill="#4176b6"/>
<path d="M50.00 363.58L56.21 363.55L62.42 363.52L68.63 363.50L74.84 363.47L81.05 363.46L87.26 363.44L93.47 363.43L99.68 363.42L105.89 363.42L112.10 363.42L118.31 363.43L124.52 363.43L130.73 363.45L136.94 363.46L143.15 363.48L149.36 363.50L155.57 363.53L161.78 363.56L167.99 363.59L174.20 363.62L180.41 363.70L186.62 363.80L192.83 363.93L199.04 364.08L205.25 364.24L211.46 364.39L217.67 364.55L223.88 364.69L230.09 364.80L236.30 364.90L242.51 364.98L248.72 365.05L254.93 365.12L261.14 365.19L267.35 365.25L273.56 365.32L279.77 365.38L285.98 365.45L292.19 365.53L298.40 365.61" stroke="#3ba5c4" stroke-width="1.6" fill="none" stroke-linejoin="round"/>
<path d="M47.90 361.48L52.10 365.68M47.90 365.68L52.10 361.48M50.00 361.48L50.00 365.68" stroke="#3ba5c4" stroke-width="0.9" fill="none"/>
<path d="M54.11 361.45L58.31 365.65M54.11 365.65L58.31 361.45M56.21 361.45L56.21 365.65" stroke="#3ba5c4" stroke-width="0.9" fill="none"/>
<path d="M60.32 361.42L64.52 365.62M60.32 365.62L64.52 361.42M62.42 361.42L62.42 365.62" stroke="#3ba5c4" stroke-width="0.9" fill="none"/>
<path d="M66.53 361.40L70.73 365.60M66.53 365.60L70.73 361.40M68.63 361.40L68.63 365.60" stroke="#3ba5c4" stroke-width="0.9" fill="none"/>
<path d="M72.74 361.37L76.94 365.57M72.74 365.57L76.94 361.37M74.84 361.37L74.84 365.57" stroke="#3ba5c4" stroke-width="0.9" fill="none"/>
<path d="M78.95 361.36L83.15 365.56M78.95 365.56L83.15 361.36M81.05 361.36L81.05 365.56" stroke="#3ba5c4" stroke-width="0.9" fill="none"/>
<path d="M85.16 361.34L89.36 365.54M85.16 365.54L89.36 361.34M87.26 361.34L87.26 365.54" stroke="#3ba5c4" stroke-width="0.9" fill="none"/>
<path d="M91.37 361.33L95.57 365.53M91.37 365.53L95.57 361.33M93.47 361.33L93.47 365.53" stroke="#3ba5c4" stroke-width="0.9" fill="none"/>
<path d="M97.58 361.32L101.78 365.52M97.58 365.52L101.78 361.32M99.68 361.32L99.68 365.52" stroke="#3ba5c4" stroke-width="0.9" fill="none"/>
<path d="M103.79 361.32L107.99 365.52M103.79 365.52L107.99 361.32M105.89 361.32L105.89 365.52" stroke="#3ba5c4" stroke-width="0.9" fill="none"/>
<path d="M110.00 361.32L114.20 365.52M110.00 365.52L114.20 361.32M112.10 361.32L112.10 365.52" stroke="#3ba5c4" stroke-width="0.9" fill="none"/>
<path d="M116.21 361.33L120.41 365.53M116.21 365.53L120.41 361.33M118.31 361.33L118.31 365.53" stroke="#3ba5c4" stroke-width="0.9" fill="none"/>
<path d="M122.42 361.33L126.62 365.53M122.42 365.53L126.62 361.33M124.52 361.33L124.52 365.53" stroke="#3ba5c4" stroke-width="0.9" fill="none"/>
<path d="M128.63 361.35L132.83 365.55M128.63 365.55L132.83 361.35M130.73 361.35L130.73 365.55" stroke="#3ba5c4" stroke-width="0.9" fill="none"/>
<path d="M134.84 361.36L139.04 365.56M134.84 365.56L139.04 361.36M136.94 361.36L136.94 365.56" stroke="#3ba5c4" stroke-width="0.9" fill="none"/>
<path d="M141.05 361.38L145.25 365.58M141.05 365.58L145.25 361.38M143.15 361.38L143.15 365.58" stroke="#3ba5c4" stroke-width="0.9" fill="none"/>
<path d="M147.26 361.40L151.46 365.60M147.26 365.60L151.46 361.40M149.36 361.40L149.36 365.60" stroke="#3ba5c4" stroke-width="0.9" fill="none"/>
<path d="M153.47 361.43L157.67 365.63M153.47 365.63L157.67 361.43M155.57 361.43L155.57 365.63" stroke="#3ba5c4" stroke-width="0.9" fill="none"/>
<path d="M159.68 361.46L163.88 365.66M159.68 365.66L163.88 361.46M161.78 361.46L161.78 365.66" stroke="#3ba5c4" stroke-width="0.9" fill="none"/>
<path d="M165.89 361.49L170.09 365.69M165.89 365.69L170.09 361.49M167.99 361.49L167.99 365.69" stroke="#3ba5c4" stroke-width="0.9" fill="none"/>
<path d="M172.10 361.52L176.30 365.72M172.10 365.72L176.30 361.52M174.20 361.52L174.20 365.72" stroke="#3ba5c4" stroke-width="0.9" fill="none"/>
<path d="M178.31 361.60L182.51 365.80M178.31 365.80L182.51 361.60M180.41 361.60L180.41 365.80" stroke="#3ba5c4" stroke-width="0.9" fill="none"/>
<path d="M184.52 361.70L188.72 365.90M184.52 365.90L188.72 361.70M186.62 361.70L186.62 365.90" stroke="#3ba5c4" stroke-width="0.9" fill="none"/>
<path d="M190.73 361.83L194.93 366.03M190.73 366.03L194.93 361.83M192.83 361.83L192.83 366.03" stroke="#3ba5c4" stroke-width="0.9" fill="none"/>
<path d="M196.94 361.98L201.14 366.18M196.94 366.18L201.14 361.98M199.04 361.98L199.04 366.18" stroke="#3ba5c4" stroke-width="0.9" fill="none"/>
<path d="M203.15 362.14L207.35 366.34M203.15 366.34L207.35 362.14M205.25 362.14L205.25 366.34" stroke="#3ba5c4" stroke-width="0.9" fill="none"/>
<path d="M209.36 362.29L213.56 366.49M209.36 366.49L213.56 362.29M211.46 362.29L211.46 366.49" stroke="#3ba5c4" stroke-width="0.9" fill="none"/>
<path d="M215.57 362.45L219.77 366.65M215.57 366.65L219.77 362.45M217.67 362.45L217.67 366.65" stroke="#3ba5c4" stroke-width="0.9" fill="none"/>
<path d="M221.78 362.59L225.98 366.79M221.78 366.79L225.98 362.59M223.88 362.59L223.88 366.79" stroke="#3ba5c4" stroke-width="0.9" fill="none"/>
<path d="M227.99 362.70L232.19 366.90M227.99 366.90L232.19 362.70M230.09 362.70L230.09 366.90" stroke="#3ba5c4" stroke-width="0.9" fill="none"/>
<path d="M234.20 362.80L238.40 367.00M234.20 367.00L238.40 362.80M236.30 362.80L236.30 367.00" stroke="#3ba5c4" stroke-width="0.9" fill="none"/>
<path d="M240.41 362.88L244.61 367.08M240.41 367.08L244.61 362.88M242.51 362.88L242.51 367.08" stroke="#3ba5c4" stroke-width="0.9" fill="none"/>
<path d="M246.62 362.95L250.82 367.15M246.62 367.15L250.82 362.95M248.72 362.95L248.72 367.15" stroke="#3ba5c4" stroke-width="0.9" fill="none"/>
<path d="M252.83 363.02L257.03 367.22M252.83 367.22L257.03 363.02M254.93 363.02L254.93 367.22" stroke="#3ba5c4" stroke-width="0.9" fill="none"/>
<path d="M259.04 363.09L263.24 367.29M259.04 367.29L263.24 363.09M261.14 363.09L261.14 367.29" stroke="#3ba5c4" stroke-width="0.9" fill="none"/>
<path d="M265.25 363.15L269.45 367.35M265.25 367.35L269.45 363.15M267.35 363.15L267.35 367.35" stroke="#3ba5c4" stroke-width="0.9" fill="none"/>
<path d="M271.46 363.22L275.66 367.42M271.46 367.42L275.66 363.22M273.56 363.22L273.56 367.42" stroke="#3ba5c4" stroke-width="0.9" fill="none"/>
<path d="M277.67 363.28L281.87 367.48M277.67 367.48L281.87 363.28M279.77 363.28L279.77 367.48" stroke="#3ba5c4" stroke-width="0.9" fill="none"/>
<path d="M283.88 363.35L288.08 367.55M283.88 367.55L288.08 363.35M285.98 363.35L285.98 367.55" stroke="#3ba5c4" stroke-width="0.9" fill="none"/>
<path d="M290.09 363.43L294.29 367.63M290.09 367.63L294.29 363.43M292.19 363.43L292.19 367.63" stroke="#3ba5c4" stroke-width="0.9" fill="none"/>
<path d="M296.30 363.51L300.50 367.71M296.30 367.71L300.50 363.51M298.40 363.51L298.40 367.71" stroke="#3ba5c4" stroke-width="0.9" fill="none"/>
<path d="M46.60 281.00L46.60 372.70M44.10 370.20L300.80 370.20" stroke="#505050" stroke-width="1.25" fill="none"/>
<path d="M43.80 370.20L46.60 370.20" stroke="#505050" stroke-width="1.25"/>
<text x="37.40" y="373.20" font-family='"Liberation Sans", sans-serif' font-size="8.8" font-weight="bold" text-anchor="end" fill="#000" textLength="16.80" lengthAdjust="spacingAndGlyphs" stroke="#000" stroke-width="0.3">0.00</text>
<path d="M43.80 352.36L46.60 352.36" stroke="#505050" stroke-width="1.25"/>
<text x="37.40" y="355.36" font-family='"Liberation Sans", sans-serif' font-size="8.8" font-weight="bold" text-anchor="end" fill="#000" textLength="16.80" lengthAdjust="spacingAndGlyphs" stroke="#000" stroke-width="0.3">1.00</text>
<path d="M43.80 334.52L46.60 334.52" stroke="#505050" stroke-width="1.25"/>
<text x="37.40" y="337.52" font-family='"Liberation Sans", sans-serif' font-size="8.8" font-weight="bold" text-anchor="end" fill="#000" textLength="16.80" lengthAdjust="spacingAndGlyphs" stroke="#000" stroke-width="0.3">2.00</text>
<path d="M43.80 316.68L46.60 316.68" stroke="#505050" stroke-width="1.25"/>
<text x="37.40" y="319.68" font-family='"Liberation Sans", sans-serif' font-size="8.8" font-weight="bold" text-anchor="end" fill="#000" textLength="16.80" lengthAdjust="spacingAndGlyphs" stroke="#000" stroke-width="0.3">3.00</text>
<path d="M43.80 298.84L46.60 298.84" stroke="#505050" stroke-width="1.25"/>
<text x="37.40" y="301.84" font-family='"Liberation Sans", sans-serif' font-size="8.8" font-weight="bold" text-anchor="end" fill="#000" textLength="16.80" lengthAdjust="spacingAndGlyphs" stroke="#000" stroke-width="0.3">4.00</text>
<path d="M43.80 281.00L46.60 281.00" stroke="#505050" stroke-width="1.25"/>
<text x="37.40" y="284.00" font-family='"Liberation Sans", sans-serif' font-size="8.8" font-weight="bold" text-anchor="end" fill="#000" textLength="16.80" lengthAdjust="spacingAndGlyphs" stroke="#000" stroke-width="0.3">5.00</text>
<path d="M46.60 370.20L46.60 373.00" stroke="#505050" stroke-width="1.25"/>
<text x="49.80" y="383.40" font-family='"Liberation Sans", sans-serif' font-size="8.8" font-weight="bold" text-anchor="middle" fill="#000" textLength="4.65" lengthAdjust="spacingAndGlyphs" stroke="#000" stroke-width="0.3">0</text>
<path d="M108.70 370.20L108.70 373.00" stroke="#505050" stroke-width="1.25"/>
<text x="111.90" y="383.40" font-family='"Liberation Sans", sans-serif' font-size="8.8" font-weight="bold" text-anchor="middle" fill="#000" textLength="4.65" lengthAdjust="spacingAndGlyphs" stroke="#000" stroke-width="0.3">1</text>
<path d="M170.80 370.20L170.80 373.00" stroke="#505050" stroke-width="1.25"/>
<text x="174.00" y="383.40" font-family='"Liberation Sans", sans-serif' font-size="8.8" font-weight="bold" text-anchor="middle" fill="#000" textLength="9.30" lengthAdjust="spacingAndGlyphs" stroke="#000" stroke-width="0.3">10</text>
<path d="M232.90 370.20L232.90 373.00" stroke="#505050" stroke-width="1.25"/>
<text x="236.10" y="383.40" font-family='"Liberation Sans", sans-serif' font-size="8.8" font-weight="bold" text-anchor="middle" fill="#000" textLength="13.95" lengthAdjust="spacingAndGlyphs" stroke="#000" stroke-width="0.3">100</text>
<path d="M295.00 370.20L295.00 373.00" stroke="#505050" stroke-width="1.25"/>
<text x="298.20" y="383.40" font-family='"Liberation Sans", sans-serif' font-size="8.8" font-weight="bold" text-anchor="middle" fill="#000" textLength="18.60" lengthAdjust="spacingAndGlyphs" stroke="#000" stroke-width="0.3">1000</text>
<text x="14.10" y="324.70" font-family='"Liberation Sans", sans-serif' font-size="8.8" font-weight="bold" text-anchor="middle" fill="#000" textLength="67.40" lengthAdjust="spacingAndGlyphs" transform="rotate(-90 14.10 324.70)" stroke="#000" stroke-width="0.3">Viscosity (Pa·s)</text>
<text x="194.80" y="396.20" font-family='"Liberation Sans", sans-serif' font-size="8.8" font-weight="bold" text-anchor="middle" fill="#000" textLength="68.10" lengthAdjust="spacingAndGlyphs" stroke="#000" stroke-width="0.3">Shear rate (s<tspan font-size="5.8" dy="-3.0">−1</tspan><tspan dy="3.0">)</tspan></text>
<path d="M313.40 298.90L326.00 298.90" stroke="#7455a0" stroke-width="1.7"/>
<path d="M317.45 296.65L321.95 301.15M317.45 301.15L321.95 296.65" stroke="#7455a0" stroke-width="1.05" fill="none"/>
<text x="327.30" y="302.10" font-family='"Liberation Sans", sans-serif' font-size="9" font-weight="bold" text-anchor="start" fill="#000" textLength="29.80" lengthAdjust="spacingAndGlyphs" stroke="#000" stroke-width="0.3">H1LVM</text>
<path d="M313.40 312.70L326.00 312.70" stroke="#94b850" stroke-width="1.7"/>
<path d="M319.70 310.27L322.13 315.13L317.27 315.13Z" fill="#94b850"/>
<text x="327.30" y="315.90" font-family='"Liberation Sans", sans-serif' font-size="9" font-weight="bold" text-anchor="start" fill="#000" textLength="29.80" lengthAdjust="spacingAndGlyphs" stroke="#000" stroke-width="0.3">H2LVM</text>
<path d="M313.40 326.50L326.00 326.50" stroke="#b94340" stroke-width="1.7"/>
<rect x="317.50" y="324.30" width="4.41" height="4.41" fill="#b94340"/>
<text x="327.30" y="329.70" font-family='"Liberation Sans", sans-serif' font-size="9" font-weight="bold" text-anchor="start" fill="#000" textLength="29.80" lengthAdjust="spacingAndGlyphs" stroke="#000" stroke-width="0.3">H3LVM</text>
<path d="M313.40 340.30L326.00 340.30" stroke="#4176b6" stroke-width="1.7"/>
<path d="M319.70 338.00L322.00 340.30L319.70 342.59L317.40 340.30Z" fill="#4176b6"/>
<text x="327.30" y="343.50" font-family='"Liberation Sans", sans-serif' font-size="9" font-weight="bold" text-anchor="start" fill="#000" textLength="29.80" lengthAdjust="spacingAndGlyphs" stroke="#000" stroke-width="0.3">H4LVM</text>
<path d="M313.40 354.10L326.00 354.10" stroke="#3ba5c4" stroke-width="1.7"/>
<path d="M317.60 352.00L321.80 356.20M317.60 356.20L321.80 352.00M319.70 352.00L319.70 356.20" stroke="#3ba5c4" stroke-width="0.9" fill="none"/>
<text x="327.30" y="357.30" font-family='"Liberation Sans", sans-serif' font-size="9" font-weight="bold" text-anchor="start" fill="#000" textLength="18.70" lengthAdjust="spacingAndGlyphs" stroke="#000" stroke-width="0.3">LVM</text>
<text x="421.40" y="338.70" font-family='"Liberation Serif", serif' font-size="10.5" font-weight="normal" text-anchor="middle" fill="#000" stroke="#000" stroke-width="0.12">(<tspan font-weight="bold">c</tspan>)</text>
</g>
<g>
<path d="M54.10 503.91L60.14 503.91L66.18 503.91L72.22 503.91L78.26 503.91L84.30 503.91L90.34 503.91L96.38 503.91L102.42 503.91L108.46 503.91L114.50 503.91L120.54 503.91L126.58 503.91L132.62 503.92L138.66 503.93L144.70 503.94L150.74 503.95L156.78 503.96L162.82 503.97L168.86 503.99L174.90 504.01L180.94 504.04L186.98 504.08L193.02 504.14L199.06 504.20L205.10 504.27L211.14 504.34L217.18 504.40L223.22 504.47L229.26 504.52L235.30 504.57L241.34 504.61L247.38 504.64L253.42 504.68L259.46 504.71L265.50 504.75L271.54 504.78L277.58 504.82L283.62 504.85L289.66 504.89L295.70 504.93" stroke="#7455a0" stroke-width="1.5" fill="none" stroke-linejoin="round"/>
<path d="M51.85 501.66L56.35 506.16M51.85 506.16L56.35 501.66" stroke="#7455a0" stroke-width="1.05" fill="none"/>
<path d="M57.89 501.66L62.39 506.16M57.89 506.16L62.39 501.66" stroke="#7455a0" stroke-width="1.05" fill="none"/>
<path d="M63.93 501.66L68.43 506.16M63.93 506.16L68.43 501.66" stroke="#7455a0" stroke-width="1.05" fill="none"/>
<path d="M69.97 501.66L74.47 506.16M69.97 506.16L74.47 501.66" stroke="#7455a0" stroke-width="1.05" fill="none"/>
<path d="M76.01 501.66L80.51 506.16M76.01 506.16L80.51 501.66" stroke="#7455a0" stroke-width="1.05" fill="none"/>
<path d="M82.05 501.66L86.55 506.16M82.05 506.16L86.55 501.66" stroke="#7455a0" stroke-width="1.05" fill="none"/>
<path d="M88.09 501.66L92.59 506.16M88.09 506.16L92.59 501.66" stroke="#7455a0" stroke-width="1.05" fill="none"/>
<path d="M94.13 501.66L98.63 506.16M94.13 506.16L98.63 501.66" stroke="#7455a0" stroke-width="1.05" fill="none"/>
<path d="M100.17 501.66L104.67 506.16M100.17 506.16L104.67 501.66" stroke="#7455a0" stroke-width="1.05" fill="none"/>
<path d="M106.21 501.66L110.71 506.16M106.21 506.16L110.71 501.66" stroke="#7455a0" stroke-width="1.05" fill="none"/>
<path d="M112.25 501.66L116.75 506.16M112.25 506.16L116.75 501.66" stroke="#7455a0" stroke-width="1.05" fill="none"/>
<path d="M118.29 501.66L122.79 506.16M118.29 506.16L122.79 501.66" stroke="#7455a0" stroke-width="1.05" fill="none"/>
<path d="M124.33 501.66L128.83 506.16M124.33 506.16L128.83 501.66" stroke="#7455a0" stroke-width="1.05" fill="none"/>
<path d="M130.37 501.67L134.87 506.17M130.37 506.17L134.87 501.67" stroke="#7455a0" stroke-width="1.05" fill="none"/>
<path d="M136.41 501.68L140.91 506.18M136.41 506.18L140.91 501.68" stroke="#7455a0" stroke-width="1.05" fill="none"/>
<path d="M142.45 501.69L146.95 506.19M142.45 506.19L146.95 501.69" stroke="#7455a0" stroke-width="1.05" fill="none"/>
<path d="M148.49 501.70L152.99 506.20M148.49 506.20L152.99 501.70" stroke="#7455a0" stroke-width="1.05" fill="none"/>
<path d="M154.53 501.71L159.03 506.21M154.53 506.21L159.03 501.71" stroke="#7455a0" stroke-width="1.05" fill="none"/>
<path d="M160.57 501.72L165.07 506.22M160.57 506.22L165.07 501.72" stroke="#7455a0" stroke-width="1.05" fill="none"/>
<path d="M166.61 501.74L171.11 506.24M166.61 506.24L171.11 501.74" stroke="#7455a0" stroke-width="1.05" fill="none"/>
<path d="M172.65 501.76L177.15 506.26M172.65 506.26L177.15 501.76" stroke="#7455a0" stroke-width="1.05" fill="none"/>
<path d="M178.69 501.79L183.19 506.29M178.69 506.29L183.19 501.79" stroke="#7455a0" stroke-width="1.05" fill="none"/>
<path d="M184.73 501.83L189.23 506.33M184.73 506.33L189.23 501.83" stroke="#7455a0" stroke-width="1.05" fill="none"/>
<path d="M190.77 501.89L195.27 506.39M190.77 506.39L195.27 501.89" stroke="#7455a0" stroke-width="1.05" fill="none"/>
<path d="M196.81 501.95L201.31 506.45M196.81 506.45L201.31 501.95" stroke="#7455a0" stroke-width="1.05" fill="none"/>
<path d="M202.85 502.02L207.35 506.52M202.85 506.52L207.35 502.02" stroke="#7455a0" stroke-width="1.05" fill="none"/>
<path d="M208.89 502.09L213.39 506.59M208.89 506.59L213.39 502.09" stroke="#7455a0" stroke-width="1.05" fill="none"/>
<path d="M214.93 502.15L219.43 506.65M214.93 506.65L219.43 502.15" stroke="#7455a0" stroke-width="1.05" fill="none"/>
<path d="M220.97 502.22L225.47 506.72M220.97 506.72L225.47 502.22" stroke="#7455a0" stroke-width="1.05" fill="none"/>
<path d="M227.01 502.27L231.51 506.77M227.01 506.77L231.51 502.27" stroke="#7455a0" stroke-width="1.05" fill="none"/>
<path d="M233.05 502.32L237.55 506.82M233.05 506.82L237.55 502.32" stroke="#7455a0" stroke-width="1.05" fill="none"/>
<path d="M239.09 502.36L243.59 506.86M239.09 506.86L243.59 502.36" stroke="#7455a0" stroke-width="1.05" fill="none"/>
<path d="M245.13 502.39L249.63 506.89M245.13 506.89L249.63 502.39" stroke="#7455a0" stroke-width="1.05" fill="none"/>
<path d="M251.17 502.43L255.67 506.93M251.17 506.93L255.67 502.43" stroke="#7455a0" stroke-width="1.05" fill="none"/>
<path d="M257.21 502.46L261.71 506.96M257.21 506.96L261.71 502.46" stroke="#7455a0" stroke-width="1.05" fill="none"/>
<path d="M263.25 502.50L267.75 507.00M263.25 507.00L267.75 502.50" stroke="#7455a0" stroke-width="1.05" fill="none"/>
<path d="M269.29 502.53L273.79 507.03M269.29 507.03L273.79 502.53" stroke="#7455a0" stroke-width="1.05" fill="none"/>
<path d="M275.33 502.57L279.83 507.07M275.33 507.07L279.83 502.57" stroke="#7455a0" stroke-width="1.05" fill="none"/>
<path d="M281.37 502.60L285.87 507.10M281.37 507.10L285.87 502.60" stroke="#7455a0" stroke-width="1.05" fill="none"/>
<path d="M287.41 502.64L291.91 507.14M287.41 507.14L291.91 502.64" stroke="#7455a0" stroke-width="1.05" fill="none"/>
<path d="M293.45 502.68L297.95 507.18M293.45 507.18L297.95 502.68" stroke="#7455a0" stroke-width="1.05" fill="none"/>
<path d="M54.10 490.76L60.14 492.59L66.18 493.96L72.22 495.24L78.26 496.42L84.30 497.34L90.34 498.16L96.38 498.72L102.42 499.19L108.46 499.62L114.50 500.04L120.54 500.44L126.58 500.82L132.62 501.16L138.66 501.45L144.70 501.69L150.74 501.90L156.78 502.10L162.82 502.28L168.86 502.46L174.90 502.63L180.94 502.81L186.98 502.99L193.02 503.17L199.06 503.34L205.10 503.51L211.14 503.67L217.18 503.83L223.22 503.98L229.26 504.11L235.30 504.24L241.34 504.36L247.38 504.48L253.42 504.60L259.46 504.71L265.50 504.82L271.54 504.92L277.58 505.01L283.62 505.09L289.66 505.16L295.70 505.21" stroke="#94b850" stroke-width="1.5" fill="none" stroke-linejoin="round"/>
<path d="M54.10 488.06L56.80 493.46L51.40 493.46Z" fill="#94b850"/>
<path d="M60.14 489.89L62.84 495.29L57.44 495.29Z" fill="#94b850"/>
<path d="M66.18 491.26L68.88 496.66L63.48 496.66Z" fill="#94b850"/>
<path d="M72.22 492.54L74.92 497.94L69.52 497.94Z" fill="#94b850"/>
<path d="M78.26 493.72L80.96 499.12L75.56 499.12Z" fill="#94b850"/>
<path d="M84.30 494.64L87.00 500.04L81.60 500.04Z" fill="#94b850"/>
<path d="M90.34 495.46L93.04 500.86L87.64 500.86Z" fill="#94b850"/>
<path d="M96.38 496.02L99.08 501.42L93.68 501.42Z" fill="#94b850"/>
<path d="M102.42 496.49L105.12 501.89L99.72 501.89Z" fill="#94b850"/>
<path d="M108.46 496.92L111.16 502.32L105.76 502.32Z" fill="#94b850"/>
<path d="M114.50 497.34L117.20 502.74L111.80 502.74Z" fill="#94b850"/>
<path d="M120.54 497.74L123.24 503.14L117.84 503.14Z" fill="#94b850"/>
<path d="M126.58 498.12L129.28 503.52L123.88 503.52Z" fill="#94b850"/>
<path d="M132.62 498.46L135.32 503.86L129.92 503.86Z" fill="#94b850"/>
<path d="M138.66 498.75L141.36 504.15L135.96 504.15Z" fill="#94b850"/>
<path d="M144.70 498.99L147.40 504.39L142.00 504.39Z" fill="#94b850"/>
<path d="M150.74 499.20L153.44 504.60L148.04 504.60Z" fill="#94b850"/>
<path d="M156.78 499.40L159.48 504.80L154.08 504.80Z" fill="#94b850"/>
<path d="M162.82 499.58L165.52 504.98L160.12 504.98Z" fill="#94b850"/>
<path d="M168.86 499.76L171.56 505.16L166.16 505.16Z" fill="#94b850"/>
<path d="M174.90 499.93L177.60 505.33L172.20 505.33Z" fill="#94b850"/>
<path d="M180.94 500.11L183.64 505.51L178.24 505.51Z" fill="#94b850"/>
<path d="M186.98 500.29L189.68 505.69L184.28 505.69Z" fill="#94b850"/>
<path d="M193.02 500.47L195.72 505.87L190.32 505.87Z" fill="#94b850"/>
<path d="M199.06 500.64L201.76 506.04L196.36 506.04Z" fill="#94b850"/>
<path d="M205.10 500.81L207.80 506.21L202.40 506.21Z" fill="#94b850"/>
<path d="M211.14 500.97L213.84 506.37L208.44 506.37Z" fill="#94b850"/>
<path d="M217.18 501.13L219.88 506.53L214.48 506.53Z" fill="#94b850"/>
<path d="M223.22 501.28L225.92 506.68L220.52 506.68Z" fill="#94b850"/>
<path d="M229.26 501.41L231.96 506.81L226.56 506.81Z" fill="#94b850"/>
<path d="M235.30 501.54L238.00 506.94L232.60 506.94Z" fill="#94b850"/>
<path d="M241.34 501.66L244.04 507.06L238.64 507.06Z" fill="#94b850"/>
<path d="M247.38 501.78L250.08 507.18L244.68 507.18Z" fill="#94b850"/>
<path d="M253.42 501.90L256.12 507.30L250.72 507.30Z" fill="#94b850"/>
<path d="M259.46 502.01L262.16 507.41L256.76 507.41Z" fill="#94b850"/>
<path d="M265.50 502.12L268.20 507.52L262.80 507.52Z" fill="#94b850"/>
<path d="M271.54 502.22L274.24 507.62L268.84 507.62Z" fill="#94b850"/>
<path d="M277.58 502.31L280.28 507.71L274.88 507.71Z" fill="#94b850"/>
<path d="M283.62 502.39L286.32 507.79L280.92 507.79Z" fill="#94b850"/>
<path d="M289.66 502.46L292.36 507.86L286.96 507.86Z" fill="#94b850"/>
<path d="M295.70 502.51L298.40 507.91L293.00 507.91Z" fill="#94b850"/>
<path d="M54.10 482.35L60.14 485.10L66.18 487.75L72.22 489.86L78.26 491.96L84.30 493.50L90.34 494.60L96.38 495.51L102.42 496.43L108.46 497.34L114.50 497.92L120.54 498.40L126.58 498.82L132.62 499.21L138.66 499.62L144.70 500.07L150.74 500.53L156.78 500.98L162.82 501.41L168.86 501.78L174.90 502.09L180.94 502.35L186.98 502.58L193.02 502.80L199.06 503.00L205.10 503.18L211.14 503.36L217.18 503.52L223.22 503.68L229.26 503.83L235.30 503.97L241.34 504.12L247.38 504.27L253.42 504.41L259.46 504.54L265.50 504.67L271.54 504.79L277.58 504.89L283.62 504.99L289.66 505.06L295.70 505.12" stroke="#b94340" stroke-width="1.5" fill="none" stroke-linejoin="round"/>
<rect x="51.65" y="479.90" width="4.90" height="4.90" fill="#b94340"/>
<rect x="57.69" y="482.65" width="4.90" height="4.90" fill="#b94340"/>
<rect x="63.73" y="485.30" width="4.90" height="4.90" fill="#b94340"/>
<rect x="69.77" y="487.41" width="4.90" height="4.90" fill="#b94340"/>
<rect x="75.81" y="489.51" width="4.90" height="4.90" fill="#b94340"/>
<rect x="81.85" y="491.05" width="4.90" height="4.90" fill="#b94340"/>
<rect x="87.89" y="492.15" width="4.90" height="4.90" fill="#b94340"/>
<rect x="93.93" y="493.06" width="4.90" height="4.90" fill="#b94340"/>
<rect x="99.97" y="493.98" width="4.90" height="4.90" fill="#b94340"/>
<rect x="106.01" y="494.89" width="4.90" height="4.90" fill="#b94340"/>
<rect x="112.05" y="495.47" width="4.90" height="4.90" fill="#b94340"/>
<rect x="118.09" y="495.95" width="4.90" height="4.90" fill="#b94340"/>
<rect x="124.13" y="496.37" width="4.90" height="4.90" fill="#b94340"/>
<rect x="130.17" y="496.76" width="4.90" height="4.90" fill="#b94340"/>
<rect x="136.21" y="497.17" width="4.90" height="4.90" fill="#b94340"/>
<rect x="142.25" y="497.62" width="4.90" height="4.90" fill="#b94340"/>
<rect x="148.29" y="498.08" width="4.90" height="4.90" fill="#b94340"/>
<rect x="154.33" y="498.53" width="4.90" height="4.90" fill="#b94340"/>
<rect x="160.37" y="498.96" width="4.90" height="4.90" fill="#b94340"/>
<rect x="166.41" y="499.33" width="4.90" height="4.90" fill="#b94340"/>
<rect x="172.45" y="499.64" width="4.90" height="4.90" fill="#b94340"/>
<rect x="178.49" y="499.90" width="4.90" height="4.90" fill="#b94340"/>
<rect x="184.53" y="500.13" width="4.90" height="4.90" fill="#b94340"/>
<rect x="190.57" y="500.35" width="4.90" height="4.90" fill="#b94340"/>
<rect x="196.61" y="500.55" width="4.90" height="4.90" fill="#b94340"/>
<rect x="202.65" y="500.73" width="4.90" height="4.90" fill="#b94340"/>
<rect x="208.69" y="500.91" width="4.90" height="4.90" fill="#b94340"/>
<rect x="214.73" y="501.07" width="4.90" height="4.90" fill="#b94340"/>
<rect x="220.77" y="501.23" width="4.90" height="4.90" fill="#b94340"/>
<rect x="226.81" y="501.38" width="4.90" height="4.90" fill="#b94340"/>
<rect x="232.85" y="501.52" width="4.90" height="4.90" fill="#b94340"/>
<rect x="238.89" y="501.67" width="4.90" height="4.90" fill="#b94340"/>
<rect x="244.93" y="501.82" width="4.90" height="4.90" fill="#b94340"/>
<rect x="250.97" y="501.96" width="4.90" height="4.90" fill="#b94340"/>
<rect x="257.01" y="502.09" width="4.90" height="4.90" fill="#b94340"/>
<rect x="263.05" y="502.22" width="4.90" height="4.90" fill="#b94340"/>
<rect x="269.09" y="502.34" width="4.90" height="4.90" fill="#b94340"/>
<rect x="275.13" y="502.44" width="4.90" height="4.90" fill="#b94340"/>
<rect x="281.17" y="502.54" width="4.90" height="4.90" fill="#b94340"/>
<rect x="287.21" y="502.61" width="4.90" height="4.90" fill="#b94340"/>
<rect x="293.25" y="502.67" width="4.90" height="4.90" fill="#b94340"/>
<path d="M54.10 432.17L60.14 434.52L66.18 444.24L72.22 454.04L78.26 463.00L84.30 470.49L90.34 477.45L96.38 484.53L102.42 487.78L108.46 489.86L114.50 491.24L120.54 493.45L126.58 495.27L132.62 496.72L138.66 497.91L144.70 498.82L150.74 499.63L156.78 500.27L162.82 500.91L168.86 501.46L174.90 502.09L180.94 502.36L186.98 502.58L193.02 502.76L199.06 502.91L205.10 503.03L211.14 503.14L217.18 503.25L223.22 503.36L229.26 503.47L235.30 503.60L241.34 503.74L247.38 503.88L253.42 504.02L259.46 504.16L265.50 504.29L271.54 504.41L277.58 504.52L283.62 504.62L289.66 504.70L295.70 504.75" stroke="#4176b6" stroke-width="1.5" fill="none" stroke-linejoin="round"/>
<path d="M54.10 429.62L56.65 432.17L54.10 434.72L51.55 432.17Z" fill="#4176b6"/>
<path d="M60.14 431.97L62.69 434.52L60.14 437.07L57.59 434.52Z" fill="#4176b6"/>
<path d="M66.18 441.69L68.73 444.24L66.18 446.79L63.63 444.24Z" fill="#4176b6"/>
<path d="M72.22 451.49L74.77 454.04L72.22 456.59L69.67 454.04Z" fill="#4176b6"/>
<path d="M78.26 460.45L80.81 463.00L78.26 465.55L75.71 463.00Z" fill="#4176b6"/>
<path d="M84.30 467.94L86.85 470.49L84.30 473.04L81.75 470.49Z" fill="#4176b6"/>
<path d="M90.34 474.90L92.89 477.45L90.34 480.00L87.79 477.45Z" fill="#4176b6"/>
<path d="M96.38 481.98L98.93 484.53L96.38 487.08L93.83 484.53Z" fill="#4176b6"/>
<path d="M102.42 485.23L104.97 487.78L102.42 490.33L99.87 487.78Z" fill="#4176b6"/>
<path d="M108.46 487.31L111.01 489.86L108.46 492.41L105.91 489.86Z" fill="#4176b6"/>
<path d="M114.50 488.69L117.05 491.24L114.50 493.79L111.95 491.24Z" fill="#4176b6"/>
<path d="M120.54 490.90L123.09 493.45L120.54 496.00L117.99 493.45Z" fill="#4176b6"/>
<path d="M126.58 492.72L129.13 495.27L126.58 497.82L124.03 495.27Z" fill="#4176b6"/>
<path d="M132.62 494.17L135.17 496.72L132.62 499.27L130.07 496.72Z" fill="#4176b6"/>
<path d="M138.66 495.36L141.21 497.91L138.66 500.46L136.11 497.91Z" fill="#4176b6"/>
<path d="M144.70 496.27L147.25 498.82L144.70 501.37L142.15 498.82Z" fill="#4176b6"/>
<path d="M150.74 497.08L153.29 499.63L150.74 502.18L148.19 499.63Z" fill="#4176b6"/>
<path d="M156.78 497.72L159.33 500.27L156.78 502.82L154.23 500.27Z" fill="#4176b6"/>
<path d="M162.82 498.36L165.37 500.91L162.82 503.46L160.27 500.91Z" fill="#4176b6"/>
<path d="M168.86 498.91L171.41 501.46L168.86 504.01L166.31 501.46Z" fill="#4176b6"/>
<path d="M174.90 499.54L177.45 502.09L174.90 504.64L172.35 502.09Z" fill="#4176b6"/>
<path d="M180.94 499.81L183.49 502.36L180.94 504.91L178.39 502.36Z" fill="#4176b6"/>
<path d="M186.98 500.03L189.53 502.58L186.98 505.13L184.43 502.58Z" fill="#4176b6"/>
<path d="M193.02 500.21L195.57 502.76L193.02 505.31L190.47 502.76Z" fill="#4176b6"/>
<path d="M199.06 500.36L201.61 502.91L199.06 505.46L196.51 502.91Z" fill="#4176b6"/>
<path d="M205.10 500.48L207.65 503.03L205.10 505.58L202.55 503.03Z" fill="#4176b6"/>
<path d="M211.14 500.59L213.69 503.14L211.14 505.69L208.59 503.14Z" fill="#4176b6"/>
<path d="M217.18 500.70L219.73 503.25L217.18 505.80L214.63 503.25Z" fill="#4176b6"/>
<path d="M223.22 500.81L225.77 503.36L223.22 505.91L220.67 503.36Z" fill="#4176b6"/>
<path d="M229.26 500.92L231.81 503.47L229.26 506.02L226.71 503.47Z" fill="#4176b6"/>
<path d="M235.30 501.05L237.85 503.60L235.30 506.15L232.75 503.60Z" fill="#4176b6"/>
<path d="M241.34 501.19L243.89 503.74L241.34 506.29L238.79 503.74Z" fill="#4176b6"/>
<path d="M247.38 501.33L249.93 503.88L247.38 506.43L244.83 503.88Z" fill="#4176b6"/>
<path d="M253.42 501.47L255.97 504.02L253.42 506.57L250.87 504.02Z" fill="#4176b6"/>
<path d="M259.46 501.61L262.01 504.16L259.46 506.71L256.91 504.16Z" fill="#4176b6"/>
<path d="M265.50 501.74L268.05 504.29L265.50 506.84L262.95 504.29Z" fill="#4176b6"/>
<path d="M271.54 501.86L274.09 504.41L271.54 506.96L268.99 504.41Z" fill="#4176b6"/>
<path d="M277.58 501.97L280.13 504.52L277.58 507.07L275.03 504.52Z" fill="#4176b6"/>
<path d="M283.62 502.07L286.17 504.62L283.62 507.17L281.07 504.62Z" fill="#4176b6"/>
<path d="M289.66 502.15L292.21 504.70L289.66 507.25L287.11 504.70Z" fill="#4176b6"/>
<path d="M295.70 502.20L298.25 504.75L295.70 507.30L293.15 504.75Z" fill="#4176b6"/>
<path d="M54.10 503.81L60.14 503.79L66.18 503.78L72.22 503.76L78.26 503.75L84.30 503.74L90.34 503.73L96.38 503.73L102.42 503.73L108.46 503.72L114.50 503.72L120.54 503.73L126.58 503.73L132.62 503.74L138.66 503.74L144.70 503.75L150.74 503.76L156.78 503.78L162.82 503.79L168.86 503.81L174.90 503.82L180.94 503.86L186.98 503.91L193.02 503.98L199.06 504.05L205.10 504.13L211.14 504.21L217.18 504.29L223.22 504.37L229.26 504.43L235.30 504.48L241.34 504.52L247.38 504.56L253.42 504.59L259.46 504.63L265.50 504.66L271.54 504.69L277.58 504.73L283.62 504.76L289.66 504.80L295.70 504.84" stroke="#3ba5c4" stroke-width="1.5" fill="none" stroke-linejoin="round"/>
<path d="M52.00 501.71L56.20 505.91M52.00 505.91L56.20 501.71M54.10 501.71L54.10 505.91" stroke="#3ba5c4" stroke-width="0.9" fill="none"/>
<path d="M58.04 501.69L62.24 505.89M58.04 505.89L62.24 501.69M60.14 501.69L60.14 505.89" stroke="#3ba5c4" stroke-width="0.9" fill="none"/>
<path d="M64.08 501.68L68.28 505.88M64.08 505.88L68.28 501.68M66.18 501.68L66.18 505.88" stroke="#3ba5c4" stroke-width="0.9" fill="none"/>
<path d="M70.12 501.66L74.32 505.86M70.12 505.86L74.32 501.66M72.22 501.66L72.22 505.86" stroke="#3ba5c4" stroke-width="0.9" fill="none"/>
<path d="M76.16 501.65L80.36 505.85M76.16 505.85L80.36 501.65M78.26 501.65L78.26 505.85" stroke="#3ba5c4" stroke-width="0.9" fill="none"/>
<path d="M82.20 501.64L86.40 505.84M82.20 505.84L86.40 501.64M84.30 501.64L84.30 505.84" stroke="#3ba5c4" stroke-width="0.9" fill="none"/>
<path d="M88.24 501.63L92.44 505.83M88.24 505.83L92.44 501.63M90.34 501.63L90.34 505.83" stroke="#3ba5c4" stroke-width="0.9" fill="none"/>
<path d="M94.28 501.63L98.48 505.83M94.28 505.83L98.48 501.63M96.38 501.63L96.38 505.83" stroke="#3ba5c4" stroke-width="0.9" fill="none"/>
<path d="M100.32 501.63L104.52 505.83M100.32 505.83L104.52 501.63M102.42 501.63L102.42 505.83" stroke="#3ba5c4" stroke-width="0.9" fill="none"/>
<path d="M106.36 501.62L110.56 505.82M106.36 505.82L110.56 501.62M108.46 501.62L108.46 505.82" stroke="#3ba5c4" stroke-width="0.9" fill="none"/>
<path d="M112.40 501.62L116.60 505.82M112.40 505.82L116.60 501.62M114.50 501.62L114.50 505.82" stroke="#3ba5c4" stroke-width="0.9" fill="none"/>
<path d="M118.44 501.63L122.64 505.83M118.44 505.83L122.64 501.63M120.54 501.63L120.54 505.83" stroke="#3ba5c4" stroke-width="0.9" fill="none"/>
<path d="M124.48 501.63L128.68 505.83M124.48 505.83L128.68 501.63M126.58 501.63L126.58 505.83" stroke="#3ba5c4" stroke-width="0.9" fill="none"/>
<path d="M130.52 501.64L134.72 505.84M130.52 505.84L134.72 501.64M132.62 501.64L132.62 505.84" stroke="#3ba5c4" stroke-width="0.9" fill="none"/>
<path d="M136.56 501.64L140.76 505.84M136.56 505.84L140.76 501.64M138.66 501.64L138.66 505.84" stroke="#3ba5c4" stroke-width="0.9" fill="none"/>
<path d="M142.60 501.65L146.80 505.85M142.60 505.85L146.80 501.65M144.70 501.65L144.70 505.85" stroke="#3ba5c4" stroke-width="0.9" fill="none"/>
<path d="M148.64 501.66L152.84 505.86M148.64 505.86L152.84 501.66M150.74 501.66L150.74 505.86" stroke="#3ba5c4" stroke-width="0.9" fill="none"/>
<path d="M154.68 501.68L158.88 505.88M154.68 505.88L158.88 501.68M156.78 501.68L156.78 505.88" stroke="#3ba5c4" stroke-width="0.9" fill="none"/>
<path d="M160.72 501.69L164.92 505.89M160.72 505.89L164.92 501.69M162.82 501.69L162.82 505.89" stroke="#3ba5c4" stroke-width="0.9" fill="none"/>
<path d="M166.76 501.71L170.96 505.91M166.76 505.91L170.96 501.71M168.86 501.71L168.86 505.91" stroke="#3ba5c4" stroke-width="0.9" fill="none"/>
<path d="M172.80 501.72L177.00 505.92M172.80 505.92L177.00 501.72M174.90 501.72L174.90 505.92" stroke="#3ba5c4" stroke-width="0.9" fill="none"/>
<path d="M178.84 501.76L183.04 505.96M178.84 505.96L183.04 501.76M180.94 501.76L180.94 505.96" stroke="#3ba5c4" stroke-width="0.9" fill="none"/>
<path d="M184.88 501.81L189.08 506.01M184.88 506.01L189.08 501.81M186.98 501.81L186.98 506.01" stroke="#3ba5c4" stroke-width="0.9" fill="none"/>
<path d="M190.92 501.88L195.12 506.08M190.92 506.08L195.12 501.88M193.02 501.88L193.02 506.08" stroke="#3ba5c4" stroke-width="0.9" fill="none"/>
<path d="M196.96 501.95L201.16 506.15M196.96 506.15L201.16 501.95M199.06 501.95L199.06 506.15" stroke="#3ba5c4" stroke-width="0.9" fill="none"/>
<path d="M203.00 502.03L207.20 506.23M203.00 506.23L207.20 502.03M205.10 502.03L205.10 506.23" stroke="#3ba5c4" stroke-width="0.9" fill="none"/>
<path d="M209.04 502.11L213.24 506.31M209.04 506.31L213.24 502.11M211.14 502.11L211.14 506.31" stroke="#3ba5c4" stroke-width="0.9" fill="none"/>
<path d="M215.08 502.19L219.28 506.39M215.08 506.39L219.28 502.19M217.18 502.19L217.18 506.39" stroke="#3ba5c4" stroke-width="0.9" fill="none"/>
<path d="M221.12 502.27L225.32 506.47M221.12 506.47L225.32 502.27M223.22 502.27L223.22 506.47" stroke="#3ba5c4" stroke-width="0.9" fill="none"/>
<path d="M227.16 502.33L231.36 506.53M227.16 506.53L231.36 502.33M229.26 502.33L229.26 506.53" stroke="#3ba5c4" stroke-width="0.9" fill="none"/>
<path d="M233.20 502.38L237.40 506.58M233.20 506.58L237.40 502.38M235.30 502.38L235.30 506.58" stroke="#3ba5c4" stroke-width="0.9" fill="none"/>
<path d="M239.24 502.42L243.44 506.62M239.24 506.62L243.44 502.42M241.34 502.42L241.34 506.62" stroke="#3ba5c4" stroke-width="0.9" fill="none"/>
<path d="M245.28 502.46L249.48 506.66M245.28 506.66L249.48 502.46M247.38 502.46L247.38 506.66" stroke="#3ba5c4" stroke-width="0.9" fill="none"/>
<path d="M251.32 502.49L255.52 506.69M251.32 506.69L255.52 502.49M253.42 502.49L253.42 506.69" stroke="#3ba5c4" stroke-width="0.9" fill="none"/>
<path d="M257.36 502.53L261.56 506.73M257.36 506.73L261.56 502.53M259.46 502.53L259.46 506.73" stroke="#3ba5c4" stroke-width="0.9" fill="none"/>
<path d="M263.40 502.56L267.60 506.76M263.40 506.76L267.60 502.56M265.50 502.56L265.50 506.76" stroke="#3ba5c4" stroke-width="0.9" fill="none"/>
<path d="M269.44 502.59L273.64 506.79M269.44 506.79L273.64 502.59M271.54 502.59L271.54 506.79" stroke="#3ba5c4" stroke-width="0.9" fill="none"/>
<path d="M275.48 502.63L279.68 506.83M275.48 506.83L279.68 502.63M277.58 502.63L277.58 506.83" stroke="#3ba5c4" stroke-width="0.9" fill="none"/>
<path d="M281.52 502.66L285.72 506.86M281.52 506.86L285.72 502.66M283.62 502.66L283.62 506.86" stroke="#3ba5c4" stroke-width="0.9" fill="none"/>
<path d="M287.56 502.70L291.76 506.90M287.56 506.90L291.76 502.70M289.66 502.70L289.66 506.90" stroke="#3ba5c4" stroke-width="0.9" fill="none"/>
<path d="M293.60 502.74L297.80 506.94M293.60 506.94L297.80 502.74M295.70 502.74L295.70 506.94" stroke="#3ba5c4" stroke-width="0.9" fill="none"/>
<path d="M51.60 425.00L51.60 509.70M49.10 507.20L298.20 507.20" stroke="#505050" stroke-width="1.25" fill="none"/>
<path d="M48.80 507.20L51.60 507.20" stroke="#505050" stroke-width="1.25"/>
<text x="42.00" y="509.80" font-family='"Liberation Sans", sans-serif' font-size="9.1" font-weight="bold" text-anchor="end" fill="#000" textLength="17.40" lengthAdjust="spacingAndGlyphs" stroke="#000" stroke-width="0.3">0.00</text>
<path d="M48.80 488.90L51.60 488.90" stroke="#505050" stroke-width="1.25"/>
<text x="42.00" y="491.50" font-family='"Liberation Sans", sans-serif' font-size="9.1" font-weight="bold" text-anchor="end" fill="#000" textLength="17.40" lengthAdjust="spacingAndGlyphs" stroke="#000" stroke-width="0.3">2.00</text>
<path d="M48.80 470.60L51.60 470.60" stroke="#505050" stroke-width="1.25"/>
<text x="42.00" y="473.20" font-family='"Liberation Sans", sans-serif' font-size="9.1" font-weight="bold" text-anchor="end" fill="#000" textLength="17.40" lengthAdjust="spacingAndGlyphs" stroke="#000" stroke-width="0.3">4.00</text>
<path d="M48.80 452.30L51.60 452.30" stroke="#505050" stroke-width="1.25"/>
<text x="42.00" y="454.90" font-family='"Liberation Sans", sans-serif' font-size="9.1" font-weight="bold" text-anchor="end" fill="#000" textLength="17.40" lengthAdjust="spacingAndGlyphs" stroke="#000" stroke-width="0.3">6.00</text>
<path d="M48.80 434.00L51.60 434.00" stroke="#505050" stroke-width="1.25"/>
<text x="42.00" y="436.60" font-family='"Liberation Sans", sans-serif' font-size="9.1" font-weight="bold" text-anchor="end" fill="#000" textLength="17.40" lengthAdjust="spacingAndGlyphs" stroke="#000" stroke-width="0.3">8.00</text>
<path d="M51.60 507.20L51.60 510.00" stroke="#505050" stroke-width="1.25"/>
<text x="54.60" y="520.40" font-family='"Liberation Sans", sans-serif' font-size="9.1" font-weight="bold" text-anchor="middle" fill="#000" textLength="4.80" lengthAdjust="spacingAndGlyphs" stroke="#000" stroke-width="0.3">0</text>
<path d="M111.90 507.20L111.90 510.00" stroke="#505050" stroke-width="1.25"/>
<text x="114.90" y="520.40" font-family='"Liberation Sans", sans-serif' font-size="9.1" font-weight="bold" text-anchor="middle" fill="#000" textLength="4.80" lengthAdjust="spacingAndGlyphs" stroke="#000" stroke-width="0.3">1</text>
<path d="M172.20 507.20L172.20 510.00" stroke="#505050" stroke-width="1.25"/>
<text x="175.20" y="520.40" font-family='"Liberation Sans", sans-serif' font-size="9.1" font-weight="bold" text-anchor="middle" fill="#000" textLength="9.60" lengthAdjust="spacingAndGlyphs" stroke="#000" stroke-width="0.3">10</text>
<path d="M232.50 507.20L232.50 510.00" stroke="#505050" stroke-width="1.25"/>
<text x="235.50" y="520.40" font-family='"Liberation Sans", sans-serif' font-size="9.1" font-weight="bold" text-anchor="middle" fill="#000" textLength="14.40" lengthAdjust="spacingAndGlyphs" stroke="#000" stroke-width="0.3">100</text>
<path d="M292.80 507.20L292.80 510.00" stroke="#505050" stroke-width="1.25"/>
<text x="295.80" y="520.40" font-family='"Liberation Sans", sans-serif' font-size="9.1" font-weight="bold" text-anchor="middle" fill="#000" textLength="19.20" lengthAdjust="spacingAndGlyphs" stroke="#000" stroke-width="0.3">1000</text>
<text x="14.10" y="470.70" font-family='"Liberation Sans", sans-serif' font-size="8.8" font-weight="bold" text-anchor="middle" fill="#000" textLength="67.40" lengthAdjust="spacingAndGlyphs" transform="rotate(-90 14.10 470.70)" stroke="#000" stroke-width="0.3">Viscosity (Pa·s)</text>
<text x="195.30" y="540.80" font-family='"Liberation Sans", sans-serif' font-size="8.8" font-weight="bold" text-anchor="middle" fill="#000" textLength="68.40" lengthAdjust="spacingAndGlyphs" stroke="#000" stroke-width="0.3">Shear rate (s<tspan font-size="5.8" dy="-3.0">−1</tspan><tspan dy="3.0">)</tspan></text>
<path d="M315.60 443.30L328.60 443.30" stroke="#7455a0" stroke-width="1.7"/>
<path d="M319.85 441.05L324.35 445.55M319.85 445.55L324.35 441.05" stroke="#7455a0" stroke-width="1.05" fill="none"/>
<text x="330.20" y="446.50" font-family='"Liberation Sans", sans-serif' font-size="9" font-weight="bold" text-anchor="start" fill="#000" textLength="33.80" lengthAdjust="spacingAndGlyphs" stroke="#000" stroke-width="0.3">CT1LVM</text>
<path d="M315.60 456.90L328.60 456.90" stroke="#94b850" stroke-width="1.7"/>
<path d="M322.10 454.20L324.80 459.60L319.40 459.60Z" fill="#94b850"/>
<text x="330.20" y="460.10" font-family='"Liberation Sans", sans-serif' font-size="9" font-weight="bold" text-anchor="start" fill="#000" textLength="33.80" lengthAdjust="spacingAndGlyphs" stroke="#000" stroke-width="0.3">CT2LVM</text>
<path d="M315.60 470.50L328.60 470.50" stroke="#b94340" stroke-width="1.7"/>
<rect x="319.65" y="468.05" width="4.90" height="4.90" fill="#b94340"/>
<text x="330.20" y="473.70" font-family='"Liberation Sans", sans-serif' font-size="9" font-weight="bold" text-anchor="start" fill="#000" textLength="33.80" lengthAdjust="spacingAndGlyphs" stroke="#000" stroke-width="0.3">CT3LVM</text>
<path d="M315.60 484.10L328.60 484.10" stroke="#4176b6" stroke-width="1.7"/>
<path d="M322.10 481.55L324.65 484.10L322.10 486.65L319.55 484.10Z" fill="#4176b6"/>
<text x="330.20" y="487.30" font-family='"Liberation Sans", sans-serif' font-size="9" font-weight="bold" text-anchor="start" fill="#000" textLength="33.80" lengthAdjust="spacingAndGlyphs" stroke="#000" stroke-width="0.3">CT4LVM</text>
<path d="M315.60 497.70L328.60 497.70" stroke="#3ba5c4" stroke-width="1.7"/>
<path d="M320.00 495.60L324.20 499.80M320.00 499.80L324.20 495.60M322.10 495.60L322.10 499.80" stroke="#3ba5c4" stroke-width="0.9" fill="none"/>
<text x="330.20" y="500.90" font-family='"Liberation Sans", sans-serif' font-size="9" font-weight="bold" text-anchor="start" fill="#000" textLength="18.00" lengthAdjust="spacingAndGlyphs" stroke="#000" stroke-width="0.3">LVM</text>
<text x="421.60" y="482.60" font-family='"Liberation Serif", serif' font-size="10.5" font-weight="normal" text-anchor="middle" fill="#000" stroke="#000" stroke-width="0.12">(<tspan font-weight="bold">d</tspan>)</text>
</g>
</svg>
</body></html>
